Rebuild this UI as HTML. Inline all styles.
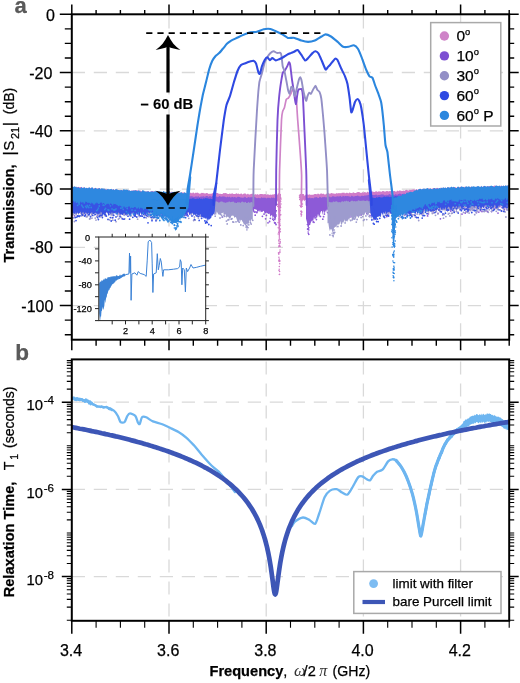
<!DOCTYPE html>
<html><head><meta charset="utf-8"><title>Figure</title>
<style>
html,body{margin:0;padding:0;background:#fff;}
body{width:520px;height:683px;overflow:hidden;font-family:"Liberation Sans", Arial, Helvetica, sans-serif;}
svg{display:block;}
text{font-family:"Liberation Sans", Arial, Helvetica, sans-serif;fill:#000;stroke:#000;stroke-width:0.25px;}
</style></head><body>
<svg width="520" height="683" viewBox="0 0 520 683">
<defs><filter id="soft" x="0" y="0" width="520" height="683" filterUnits="userSpaceOnUse"><feGaussianBlur stdDeviation="0.55"/></filter></defs>
<rect width="520" height="683" fill="#ffffff"/>
<g filter="url(#soft)">
<g id="panel-a">
<g stroke="#d9d9d9" stroke-width="1.3" stroke-dasharray="13.2 8.8" fill="none">
<path d="M71.8 72.5H509.2"/>
<path d="M71.8 130.8H509.2"/>
<path d="M71.8 189.1H509.2"/>
<path d="M71.8 247.3H509.2"/>
<path d="M71.8 305.6H509.2"/>
<path d="M169.0 15.3V339.7"/>
<path d="M266.2 15.3V339.7"/>
<path d="M363.4 15.3V339.7"/>
<path d="M460.6 15.3V339.7"/>
</g>
<clipPath id="clipA"><rect x="71.8" y="14.3" width="437.4" height="325.4"/></clipPath>
<g clip-path="url(#clipA)" stroke-linejoin="round" stroke-linecap="round">
<polygon fill="#d07ac8" points="72.0,186.7 72.8,186.5 73.6,187.2 74.4,186.5 75.2,187.2 76.0,187.0 76.8,186.7 77.6,187.3 78.4,186.8 79.2,187.3 80.0,186.9 80.8,187.0 81.6,187.5 82.4,188.0 83.2,187.2 84.0,187.4 84.8,187.9 85.6,188.4 86.4,188.0 87.2,187.8 88.0,188.6 88.8,187.5 89.6,188.5 90.4,187.9 91.2,187.7 92.0,187.8 92.8,188.1 93.6,188.7 94.4,188.0 95.2,188.6 96.0,188.7 96.8,188.4 97.6,188.7 98.4,188.1 99.2,188.2 100.0,188.4 100.8,189.1 101.6,188.8 102.4,188.7 103.2,189.1 104.0,189.0 104.8,188.8 105.6,189.5 106.4,189.4 107.2,188.9 108.0,189.4 108.8,189.4 109.6,189.9 110.4,189.7 111.2,189.2 112.0,190.1 112.8,189.1 113.6,189.5 114.4,190.0 115.2,189.3 116.0,189.7 116.8,189.2 117.6,190.0 118.4,190.2 119.2,190.0 120.0,190.4 120.8,189.7 121.6,190.3 122.4,190.2 123.2,190.2 124.0,190.1 124.8,190.6 125.6,190.8 126.4,190.2 127.2,190.5 128.0,189.8 128.8,190.6 129.6,190.6 130.4,191.1 131.2,190.9 132.0,190.3 132.8,190.4 133.6,190.8 134.4,190.0 135.2,190.6 136.0,190.3 136.8,190.3 137.6,190.3 138.4,191.2 139.2,190.4 140.0,190.6 140.8,190.8 141.6,191.5 142.4,190.5 143.2,191.0 144.0,191.2 144.8,191.7 145.6,191.6 146.4,191.7 147.2,191.0 148.0,191.2 148.8,191.2 149.6,191.9 150.4,192.0 151.2,191.0 152.0,191.1 152.8,191.2 153.6,191.2 154.4,191.6 155.2,191.8 156.0,191.4 156.8,191.1 157.6,191.6 158.4,191.6 159.2,191.9 160.0,192.4 160.8,192.1 161.6,191.9 162.4,192.1 163.2,192.2 164.0,191.4 164.8,192.5 165.6,192.4 166.4,192.6 167.2,192.5 168.0,192.0 168.8,192.1 169.6,191.7 170.4,192.4 171.2,191.7 172.0,191.8 172.8,192.0 173.6,192.0 174.4,192.2 175.2,191.9 176.0,191.9 176.8,192.1 177.6,192.0 178.4,192.4 179.2,192.0 180.0,193.1 180.8,192.8 181.6,192.3 182.4,192.4 183.2,192.6 184.0,192.6 184.8,192.4 185.6,193.3 186.4,193.5 187.2,192.9 188.0,192.9 188.8,192.4 189.6,192.5 190.4,192.8 191.2,192.7 192.0,193.4 192.8,192.6 193.6,192.4 194.4,193.6 195.2,193.1 196.0,192.6 196.8,193.1 197.6,192.5 198.4,193.1 199.2,193.7 200.0,193.6 200.8,193.4 201.6,192.8 202.4,193.0 203.2,192.8 204.0,193.5 204.8,193.2 205.6,193.6 206.4,193.0 207.2,192.9 208.0,193.6 208.8,193.9 209.6,193.7 210.4,193.7 211.2,193.7 212.0,193.6 212.8,193.0 213.6,193.4 214.4,193.2 215.2,192.8 216.0,192.8 216.8,193.1 217.6,193.1 218.4,193.6 219.2,194.0 220.0,193.4 220.8,194.0 221.6,194.1 222.4,194.0 223.2,193.3 224.0,193.1 224.8,193.2 225.6,193.1 226.4,193.2 227.2,193.7 228.0,194.1 228.8,194.0 229.6,193.5 230.4,193.8 231.2,194.0 232.0,193.1 232.8,193.8 233.6,194.1 234.4,194.0 235.2,194.0 236.0,193.6 236.8,193.3 237.6,194.1 238.4,193.5 239.2,194.1 240.0,194.3 240.8,193.6 241.6,193.6 242.4,194.4 243.2,194.1 244.0,193.4 244.8,193.4 245.6,193.4 246.4,194.4 247.2,194.3 248.0,193.5 248.8,194.4 249.6,194.6 250.4,194.2 251.2,193.8 252.0,194.1 252.8,193.6 253.6,193.5 254.4,194.7 255.2,194.3 256.0,194.2 256.8,194.7 257.6,194.1 258.4,194.7 259.2,194.6 260.0,193.9 260.8,194.0 261.6,194.0 262.4,194.0 263.2,194.4 264.0,194.0 264.8,194.3 265.6,193.9 266.4,194.9 267.2,194.2 268.0,194.4 268.8,194.6 269.6,195.0 270.4,194.4 271.2,195.1 272.0,194.6 272.8,194.6 273.6,194.6 274.4,194.0 275.2,194.6 276.0,194.3 276.8,194.0 277.6,195.1 278.4,194.3 279.2,194.7 279.2,200.5 278.4,199.4 277.6,201.6 276.8,201.7 276.0,199.8 275.2,201.4 274.4,199.6 273.6,200.4 272.8,200.4 272.0,200.5 271.2,199.9 270.4,200.8 269.6,200.8 268.8,200.8 268.0,199.8 267.2,199.2 266.4,199.1 265.6,200.4 264.8,199.8 264.0,200.8 263.2,199.6 262.4,199.3 261.6,199.1 260.8,200.5 260.0,200.4 259.2,200.7 258.4,200.5 257.6,200.0 256.8,199.7 256.0,200.0 255.2,201.1 254.4,200.5 253.6,199.2 252.8,200.5 252.0,199.3 251.2,198.9 250.4,199.3 249.6,200.4 248.8,198.8 248.0,200.2 247.2,199.9 246.4,199.8 245.6,200.3 244.8,200.4 244.0,198.5 243.2,199.7 242.4,200.1 241.6,199.9 240.8,199.9 240.0,199.7 239.2,200.4 238.4,198.6 237.6,199.2 236.8,198.7 236.0,198.4 235.2,198.9 234.4,200.0 233.6,199.9 232.8,200.4 232.0,199.7 231.2,200.3 230.4,200.2 229.6,200.2 228.8,199.4 228.0,199.5 227.2,198.5 226.4,200.1 225.6,199.9 224.8,199.7 224.0,200.3 223.2,200.2 222.4,198.2 221.6,199.7 220.8,199.8 220.0,198.5 219.2,200.4 218.4,198.9 217.6,199.0 216.8,200.2 216.0,199.8 215.2,199.6 214.4,199.8 213.6,199.3 212.8,199.4 212.0,198.5 211.2,198.7 210.4,198.0 209.6,198.0 208.8,198.9 208.0,198.1 207.2,198.5 206.4,197.9 205.6,199.1 204.8,198.4 204.0,199.1 203.2,199.0 202.4,198.7 201.6,197.8 200.8,198.7 200.0,198.5 199.2,200.1 198.4,198.4 197.6,199.1 196.8,200.1 196.0,200.0 195.2,198.4 194.4,198.8 193.6,198.1 192.8,198.8 192.0,198.4 191.2,198.2 190.4,198.3 189.6,199.2 188.8,199.7 188.0,199.6 187.2,197.8 186.4,198.0 185.6,198.2 184.8,199.3 184.0,197.6 183.2,197.8 182.4,197.5 181.6,198.2 180.8,198.3 180.0,198.8 179.2,199.0 178.4,199.2 177.6,198.0 176.8,199.5 176.0,198.8 175.2,198.3 174.4,198.0 173.6,199.1 172.8,198.2 172.0,198.0 171.2,198.9 170.4,197.2 169.6,199.1 168.8,198.0 168.0,197.3 167.2,198.1 166.4,198.5 165.6,196.8 164.8,197.3 164.0,196.7 163.2,197.5 162.4,197.0 161.6,197.8 160.8,197.2 160.0,198.3 159.2,197.2 158.4,197.2 157.6,196.9 156.8,196.5 156.0,196.7 155.2,196.6 154.4,196.9 153.6,197.5 152.8,196.5 152.0,196.8 151.2,198.4 150.4,197.4 149.6,196.9 148.8,197.1 148.0,198.1 147.2,196.1 146.4,198.0 145.6,196.1 144.8,197.8 144.0,197.3 143.2,198.0 142.4,195.9 141.6,196.7 140.8,197.3 140.0,195.7 139.2,195.8 138.4,197.2 137.6,196.8 136.8,197.6 136.0,195.8 135.2,196.0 134.4,197.3 133.6,197.5 132.8,196.3 132.0,195.5 131.2,195.8 130.4,197.0 129.6,195.2 128.8,195.7 128.0,195.3 127.2,197.3 126.4,196.8 125.6,197.2 124.8,195.0 124.0,196.0 123.2,196.3 122.4,195.5 121.6,194.7 120.8,195.7 120.0,195.9 119.2,194.6 118.4,196.3 117.6,195.2 116.8,194.9 116.0,195.2 115.2,195.6 114.4,195.4 113.6,194.7 112.8,196.2 112.0,196.6 111.2,195.3 110.4,195.1 109.6,196.4 108.8,194.5 108.0,196.3 107.2,196.0 106.4,194.2 105.6,195.4 104.8,195.5 104.0,194.1 103.2,195.8 102.4,195.5 101.6,195.2 100.8,193.7 100.0,194.0 99.2,193.6 98.4,194.4 97.6,193.6 96.8,193.6 96.0,195.2 95.2,195.4 94.4,194.4 93.6,193.6 92.8,195.2 92.0,195.0 91.2,194.5 90.4,195.1 89.6,193.9 88.8,194.0 88.0,193.7 87.2,194.3 86.4,193.8 85.6,193.7 84.8,193.9 84.0,193.5 83.2,194.5 82.4,194.1 81.6,193.6 80.8,193.4 80.0,194.0 79.2,192.7 78.4,192.6 77.6,193.3 76.8,192.2 76.0,193.7 75.2,193.1 74.4,193.0 73.6,192.5 72.8,193.0 72.0,193.3"/>
<path d="M88.0 198.2h.01M92.8 195.4h.01M170.4 204.6h.01M196.0 204.4h.01M248.8 201.4h.01M276.8 204.4h.01" stroke="#d07ac8" stroke-width="1.8" stroke-linecap="round" fill="none"/>
<polygon fill="#d07ac8" points="301.0,195.5 301.8,194.3 302.6,194.6 303.4,194.8 304.2,195.4 305.0,195.4 305.8,194.6 306.6,194.4 307.4,194.6 308.2,194.6 309.0,195.1 309.8,194.1 310.6,194.9 311.4,194.8 312.2,194.8 313.0,194.7 313.8,194.5 314.6,194.1 315.4,194.0 316.2,194.0 317.0,194.5 317.8,193.6 318.6,193.7 319.4,194.4 320.2,193.7 321.0,193.4 321.8,193.4 322.6,194.0 323.4,193.6 324.2,194.4 325.0,194.3 325.8,194.4 326.6,193.4 327.4,193.1 328.2,193.1 329.0,193.6 329.8,193.8 330.6,193.4 331.4,193.1 332.2,193.3 333.0,193.6 333.8,193.6 334.6,193.7 335.4,193.8 336.2,193.5 337.0,192.8 337.8,193.7 338.6,192.9 339.4,193.3 340.2,193.0 341.0,193.4 341.8,192.7 342.6,192.7 343.4,192.7 344.2,192.6 345.0,193.4 345.8,193.0 346.6,192.7 347.4,192.7 348.2,193.5 349.0,192.8 349.8,192.4 350.6,193.1 351.4,192.9 352.2,193.3 353.0,192.2 353.8,192.6 354.6,193.0 355.4,193.0 356.2,193.1 357.0,191.9 357.8,192.2 358.6,192.0 359.4,192.0 360.2,193.0 361.0,192.5 361.8,192.9 362.6,192.1 363.4,192.7 364.2,192.2 365.0,191.9 365.8,192.5 366.6,192.7 367.4,191.6 368.2,192.2 369.0,192.2 369.8,191.7 370.6,191.8 371.4,191.5 372.2,191.5 373.0,191.6 373.8,192.0 374.6,192.0 375.4,191.4 376.2,191.2 377.0,191.5 377.8,191.9 378.6,191.3 379.4,191.4 380.2,191.3 381.0,192.0 381.8,191.6 382.6,191.0 383.4,191.0 384.2,191.4 385.0,191.5 385.8,191.6 386.6,190.9 387.4,191.0 388.2,191.6 389.0,191.2 389.8,191.0 390.6,191.0 391.4,191.8 392.2,191.0 393.0,191.3 393.8,191.0 394.6,191.0 395.4,191.6 396.2,191.7 397.0,190.9 397.8,190.6 398.6,191.3 399.4,190.6 400.2,190.3 401.0,191.3 401.8,190.7 402.6,191.1 403.4,190.5 404.2,191.0 405.0,190.4 405.8,190.0 406.6,189.7 407.4,190.3 408.2,190.4 409.0,190.6 409.8,189.5 410.6,190.1 411.4,189.7 412.2,189.8 413.0,189.3 413.8,189.4 414.6,189.6 415.4,190.1 416.2,189.0 417.0,189.4 417.8,189.7 418.6,189.8 419.4,188.8 420.2,188.6 421.0,189.6 421.8,189.6 422.6,189.0 423.4,188.4 424.2,189.5 425.0,188.7 425.8,189.3 426.6,189.0 427.4,189.2 428.2,188.3 429.0,189.0 429.8,188.3 430.6,188.5 431.4,189.0 432.2,188.9 433.0,188.1 433.8,188.1 434.6,188.3 435.4,188.4 436.2,188.2 437.0,187.8 437.8,187.9 438.6,188.5 439.4,188.7 440.2,187.5 441.0,188.2 441.8,188.4 442.6,187.4 443.4,188.4 444.2,187.4 445.0,188.0 445.8,187.9 446.6,188.0 447.4,187.5 448.2,187.6 449.0,187.8 449.8,187.5 450.6,187.8 451.4,187.5 452.2,187.5 453.0,186.9 453.8,187.7 454.6,187.5 455.4,187.1 456.2,187.8 457.0,187.7 457.8,187.3 458.6,186.9 459.4,187.3 460.2,186.8 461.0,186.8 461.8,187.1 462.6,186.7 463.4,187.1 464.2,187.2 465.0,186.5 465.8,187.3 466.6,186.5 467.4,187.3 468.2,187.4 469.0,187.0 469.8,186.4 470.6,186.9 471.4,186.8 472.2,187.4 473.0,186.4 473.8,187.3 474.6,187.4 475.4,187.1 476.2,187.1 477.0,186.3 477.8,187.3 478.6,186.7 479.4,187.2 480.2,187.1 481.0,186.2 481.8,186.9 482.6,187.1 483.4,186.0 484.2,186.3 485.0,186.8 485.8,186.0 486.6,186.9 487.4,186.1 488.2,186.7 489.0,185.9 489.8,186.3 490.6,186.8 491.4,185.9 492.2,185.9 493.0,186.2 493.8,185.9 494.6,185.5 495.4,185.7 496.2,185.6 497.0,186.6 497.8,186.2 498.6,186.5 499.4,185.5 500.2,186.3 501.0,185.4 501.8,185.9 502.6,186.0 503.4,185.6 504.2,186.3 505.0,185.8 505.8,185.8 506.6,186.2 507.4,185.2 508.2,186.3 508.2,190.5 507.4,190.3 506.6,190.2 505.8,190.2 505.0,191.9 504.2,191.6 503.4,190.6 502.6,190.4 501.8,190.5 501.0,192.1 500.2,191.1 499.4,190.3 498.6,191.4 497.8,191.9 497.0,191.2 496.2,190.5 495.4,191.9 494.6,191.8 493.8,192.2 493.0,190.6 492.2,191.1 491.4,191.1 490.6,191.9 489.8,192.2 489.0,192.2 488.2,191.7 487.4,191.5 486.6,191.0 485.8,192.6 485.0,191.4 484.2,191.7 483.4,192.7 482.6,191.2 481.8,191.1 481.0,190.7 480.2,192.8 479.4,190.9 478.6,192.9 477.8,191.7 477.0,191.7 476.2,191.7 475.4,192.3 474.6,192.8 473.8,192.6 473.0,192.8 472.2,191.1 471.4,192.5 470.6,191.3 469.8,192.2 469.0,192.7 468.2,191.6 467.4,191.8 466.6,193.4 465.8,191.8 465.0,193.2 464.2,192.1 463.4,192.4 462.6,191.7 461.8,193.2 461.0,192.5 460.2,192.5 459.4,191.4 458.6,193.8 457.8,193.3 457.0,191.9 456.2,191.5 455.4,191.9 454.6,193.5 453.8,191.8 453.0,193.7 452.2,192.1 451.4,192.9 450.6,193.4 449.8,192.5 449.0,193.6 448.2,192.8 447.4,192.8 446.6,191.9 445.8,193.4 445.0,194.0 444.2,193.2 443.4,194.3 442.6,192.8 441.8,193.0 441.0,193.9 440.2,192.9 439.4,192.8 438.6,192.3 437.8,193.3 437.0,193.1 436.2,192.9 435.4,194.2 434.6,192.7 433.8,192.7 433.0,193.2 432.2,194.1 431.4,194.6 430.6,194.2 429.8,194.7 429.0,194.8 428.2,192.9 427.4,193.1 426.6,193.4 425.8,193.2 425.0,195.2 424.2,195.2 423.4,195.1 422.6,193.2 421.8,195.2 421.0,195.1 420.2,195.2 419.4,194.1 418.6,194.7 417.8,193.6 417.0,195.2 416.2,195.2 415.4,195.1 414.6,195.3 413.8,193.9 413.0,193.9 412.2,194.2 411.4,194.8 410.6,196.3 409.8,194.4 409.0,194.3 408.2,194.6 407.4,196.5 406.6,194.6 405.8,196.0 405.0,195.1 404.2,195.4 403.4,196.1 402.6,196.5 401.8,195.9 401.0,197.0 400.2,196.7 399.4,197.0 398.6,196.2 397.8,197.4 397.0,196.7 396.2,196.8 395.4,196.7 394.6,197.4 393.8,195.8 393.0,196.0 392.2,197.4 391.4,196.1 390.6,197.1 389.8,197.6 389.0,197.2 388.2,196.0 387.4,196.1 386.6,195.5 385.8,197.6 385.0,196.1 384.2,197.9 383.4,197.1 382.6,196.3 381.8,196.9 381.0,197.6 380.2,196.8 379.4,197.1 378.6,196.4 377.8,197.5 377.0,197.9 376.2,197.5 375.4,197.7 374.6,196.7 373.8,196.0 373.0,196.5 372.2,196.2 371.4,196.6 370.6,197.1 369.8,197.9 369.0,197.2 368.2,197.9 367.4,198.2 366.6,196.2 365.8,198.0 365.0,198.1 364.2,198.4 363.4,196.4 362.6,197.1 361.8,197.1 361.0,196.8 360.2,198.4 359.4,198.0 358.6,197.7 357.8,198.0 357.0,197.1 356.2,196.9 355.4,198.9 354.6,198.0 353.8,196.7 353.0,198.6 352.2,196.9 351.4,197.4 350.6,197.8 349.8,198.1 349.0,197.0 348.2,199.1 347.4,197.5 346.6,198.7 345.8,199.2 345.0,198.1 344.2,198.6 343.4,197.9 342.6,198.5 341.8,198.7 341.0,197.2 340.2,197.8 339.4,198.2 338.6,199.1 337.8,199.4 337.0,198.9 336.2,197.6 335.4,197.8 334.6,198.0 333.8,199.7 333.0,197.8 332.2,198.7 331.4,199.0 330.6,198.1 329.8,199.0 329.0,199.1 328.2,198.2 327.4,198.6 326.6,198.0 325.8,198.7 325.0,197.9 324.2,197.9 323.4,199.5 322.6,198.5 321.8,198.3 321.0,200.2 320.2,199.3 319.4,199.2 318.6,199.6 317.8,198.6 317.0,198.3 316.2,198.3 315.4,199.1 314.6,200.0 313.8,199.8 313.0,200.8 312.2,200.0 311.4,199.1 310.6,200.5 309.8,198.7 309.0,200.4 308.2,199.1 307.4,199.8 306.6,200.6 305.8,199.7 305.0,200.2 304.2,201.3 303.4,199.6 302.6,200.9 301.8,199.9 301.0,200.5"/>
<path d="M373.0 201.0h.01M401.8 198.7h.01M417.0 203.1h.01M446.6 194.7h.01M491.4 195.1h.01" stroke="#d07ac8" stroke-width="1.8" stroke-linecap="round" fill="none"/>
<polygon fill="#d07ac8" points="277.7,194.0 280.9,194.0 279.8,239.1 278.8,239.1"/>
<path d="M279.7 261.5h.01M278.8 240.1h.01M279.1 218.8h.01M279.1 220.1h.01M280.1 246.6h.01M279.6 198.5h.01M277.8 197.2h.01M279.4 260.4h.01M279.2 269.3h.01M278.9 195.2h.01M280.2 242.5h.01M279.3 274.4h.01M278.2 227.8h.01M278.7 246.8h.01M277.6 206.4h.01M280.0 194.4h.01M281.0 204.0h.01M280.7 201.2h.01M277.6 204.6h.01M278.9 253.0h.01M278.8 254.2h.01M280.4 198.1h.01M279.9 252.5h.01M278.6 253.8h.01M279.7 245.5h.01M280.4 231.8h.01M280.8 214.8h.01M278.5 252.8h.01M279.9 195.2h.01M278.7 261.0h.01M280.0 219.5h.01M280.6 207.6h.01M278.2 233.9h.01M279.5 224.1h.01M279.8 230.0h.01M280.4 205.9h.01M279.7 223.8h.01M279.1 245.6h.01M280.1 225.6h.01M279.6 271.5h.01M278.8 240.5h.01M281.1 199.0h.01M279.9 251.7h.01M279.6 221.2h.01M279.6 274.2h.01M278.9 243.3h.01M280.3 229.1h.01M279.8 224.9h.01M280.1 243.3h.01M279.0 260.2h.01M278.4 194.1h.01M279.5 228.6h.01M279.8 260.9h.01M280.6 197.5h.01M279.8 260.6h.01M278.8 240.9h.01M279.7 263.8h.01M280.0 250.1h.01M278.1 222.4h.01M280.0 239.4h.01M280.1 210.4h.01M279.0 270.4h.01M279.7 243.8h.01M278.6 232.2h.01M280.1 214.9h.01M279.2 258.9h.01M280.4 201.2h.01M278.9 257.3h.01M280.2 241.5h.01M279.3 266.6h.01" stroke="#d07ac8" stroke-width="1.5" stroke-linecap="round" fill="none"/>
<polygon fill="#d07ac8" points="299.5,194.0 303.1,194.0 301.8,206.1 300.8,206.1"/>
<path d="M301.5 204.5h.01M300.2 198.2h.01M302.1 198.0h.01M301.5 202.0h.01M301.4 202.9h.01M299.5 197.3h.01M301.2 215.9h.01M301.8 196.3h.01M300.8 211.3h.01M301.0 207.1h.01M300.1 205.4h.01M303.4 194.7h.01M301.3 213.1h.01M300.7 206.5h.01M301.2 211.1h.01M301.6 214.8h.01M302.0 212.0h.01M299.7 199.6h.01M300.1 198.4h.01M299.5 195.8h.01M302.2 206.3h.01M302.5 204.1h.01M300.8 214.0h.01M301.1 207.2h.01M303.1 196.6h.01" stroke="#d07ac8" stroke-width="1.5" stroke-linecap="round" fill="none"/>
<path d="M279.4 198.0 C279.4 195.2 279.4 177.8 279.6 170.0 C279.8 162.2 281.2 125.9 281.5 120.0 C281.8 114.1 282.4 112.4 282.7 111.2 C283.0 110.0 284.0 108.9 284.4 107.7 C284.8 106.5 285.8 100.6 286.2 99.6 C286.6 98.6 288.0 98.5 288.5 97.9 C289.0 97.3 290.4 94.6 290.8 93.8 C291.2 93.0 292.2 90.0 292.5 89.8 C292.8 89.6 293.7 90.9 294.0 91.5 C294.3 92.1 295.1 94.5 295.3 95.5 C295.6 96.5 296.3 98.5 296.5 101.0 C296.7 103.5 297.3 115.1 297.7 120.0 C298.1 124.9 299.6 144.5 300.0 150.0 C300.4 155.5 301.5 170.2 301.6 175.0 C301.7 179.8 301.4 195.7 301.4 198.0" fill="none" stroke="#cf84c8" stroke-width="1.7"/>
<polygon fill="#8d5ad7" points="72.0,190.0 72.8,190.4 73.6,190.6 74.4,191.1 75.2,190.7 76.0,190.4 76.8,190.5 77.6,190.2 78.4,191.4 79.2,191.5 80.0,190.4 80.8,190.2 81.6,190.6 82.4,190.8 83.2,191.6 84.0,191.7 84.8,191.6 85.6,190.6 86.4,191.6 87.2,191.6 88.0,191.6 88.8,192.1 89.6,190.8 90.4,191.0 91.2,191.9 92.0,192.2 92.8,191.9 93.6,191.4 94.4,191.9 95.2,192.2 96.0,191.3 96.8,191.7 97.6,191.6 98.4,191.5 99.2,192.1 100.0,191.7 100.8,191.8 101.6,191.7 102.4,192.5 103.2,191.7 104.0,192.7 104.8,192.0 105.6,191.9 106.4,193.2 107.2,192.2 108.0,193.3 108.8,193.2 109.6,193.3 110.4,192.3 111.2,192.8 112.0,192.3 112.8,193.5 113.6,193.5 114.4,193.2 115.2,193.0 116.0,192.9 116.8,193.6 117.6,193.1 118.4,193.4 119.2,192.8 120.0,192.9 120.8,192.7 121.6,193.7 122.4,193.5 123.2,193.0 124.0,194.0 124.8,193.2 125.6,193.5 126.4,193.1 127.2,193.3 128.0,194.2 128.8,193.5 129.6,193.3 130.4,193.8 131.2,193.6 132.0,194.5 132.8,193.4 133.6,194.7 134.4,193.4 135.2,194.6 136.0,194.3 136.8,193.7 137.6,194.1 138.4,193.9 139.2,193.9 140.0,193.9 140.8,194.1 141.6,195.1 142.4,195.1 143.2,195.1 144.0,193.9 144.8,194.2 145.6,195.1 146.4,194.0 147.2,195.0 148.0,194.4 148.8,195.4 149.6,194.1 150.4,195.2 151.2,194.6 152.0,194.4 152.8,194.2 153.6,195.4 154.4,195.0 155.2,194.6 156.0,195.0 156.8,195.7 157.6,194.7 158.4,195.2 159.2,194.7 160.0,194.8 160.8,195.6 161.6,195.6 162.4,194.9 163.2,194.7 164.0,194.8 164.8,195.6 165.6,195.4 166.4,195.1 167.2,195.1 168.0,195.7 168.8,195.9 169.6,196.0 170.4,195.7 171.2,195.2 172.0,195.1 172.8,196.1 173.6,195.6 174.4,196.1 175.2,195.2 176.0,196.3 176.8,195.7 177.6,196.4 178.4,196.5 179.2,196.0 180.0,195.3 180.8,196.6 181.6,196.0 182.4,196.6 183.2,195.8 184.0,195.7 184.8,196.7 185.6,196.1 186.4,195.8 187.2,196.1 188.0,196.4 188.8,195.6 189.6,196.4 190.4,196.3 191.2,196.4 192.0,195.8 192.8,196.7 193.6,196.8 194.4,196.9 195.2,196.2 196.0,196.7 196.8,196.3 197.6,196.8 198.4,195.9 199.2,197.0 200.0,197.1 200.8,196.5 201.6,196.5 202.4,196.6 203.2,196.6 204.0,195.9 204.8,197.2 205.6,196.2 206.4,196.1 207.2,196.0 208.0,196.3 208.8,197.1 209.6,196.0 210.4,196.1 211.2,196.9 212.0,196.3 212.8,196.0 213.6,196.8 214.4,196.8 215.2,196.8 216.0,197.0 216.8,196.2 217.6,197.3 218.4,197.1 219.2,196.1 220.0,196.3 220.8,196.8 221.6,196.8 222.4,196.5 223.2,196.3 224.0,196.7 224.8,196.4 225.6,197.0 226.4,197.4 227.2,196.4 228.0,197.0 228.8,197.3 229.6,196.5 230.4,197.4 231.2,197.6 232.0,196.8 232.8,196.9 233.6,197.5 234.4,197.1 235.2,196.9 236.0,197.7 236.8,197.4 237.6,196.8 238.4,196.7 239.2,196.9 240.0,197.0 240.8,197.8 241.6,197.6 242.4,197.7 243.2,197.6 244.0,197.7 244.8,196.6 245.6,197.3 246.4,197.9 247.2,197.9 248.0,197.0 248.8,197.2 249.6,197.5 250.4,197.2 251.2,197.4 252.0,196.8 252.8,197.3 253.6,197.5 254.4,196.8 255.2,197.0 256.0,198.2 256.8,197.9 257.6,198.2 258.4,197.8 259.2,198.0 260.0,198.2 260.8,198.2 261.6,197.0 262.4,197.9 263.2,197.4 264.0,198.0 264.8,197.4 265.6,197.8 266.4,198.4 267.2,198.0 268.0,197.5 268.8,197.9 269.6,197.8 270.4,198.5 271.2,197.6 272.0,197.6 272.8,198.1 273.6,197.4 274.4,198.1 275.2,198.6 276.0,198.0 276.0,217.9 275.2,220.7 274.4,217.4 273.6,216.0 272.8,218.4 272.0,215.1 271.2,215.6 270.4,216.8 269.6,213.4 268.8,213.9 268.0,213.8 267.2,212.9 266.4,212.8 265.6,212.9 264.8,214.8 264.0,211.2 263.2,210.7 262.4,212.1 261.6,211.8 260.8,212.3 260.0,210.1 259.2,212.0 258.4,210.5 257.6,213.5 256.8,209.5 256.0,210.1 255.2,209.0 254.4,209.0 253.6,211.4 252.8,209.7 252.0,211.6 251.2,208.9 250.4,208.4 249.6,210.8 248.8,209.2 248.0,208.5 247.2,211.9 246.4,209.7 245.6,212.0 244.8,210.2 244.0,208.8 243.2,211.3 242.4,211.7 241.6,208.8 240.8,211.4 240.0,211.8 239.2,207.5 238.4,208.5 237.6,210.3 236.8,209.4 236.0,211.9 235.2,210.1 234.4,211.6 233.6,207.6 232.8,209.1 232.0,209.4 231.2,209.0 230.4,210.1 229.6,211.6 228.8,207.7 228.0,208.5 227.2,208.1 226.4,209.0 225.6,210.7 224.8,208.8 224.0,210.9 223.2,207.3 222.4,207.5 221.6,211.1 220.8,210.2 220.0,211.2 219.2,209.7 218.4,208.0 217.6,207.7 216.8,207.7 216.0,210.8 215.2,207.9 214.4,207.8 213.6,209.2 212.8,209.9 212.0,212.0 211.2,209.7 210.4,210.3 209.6,208.4 208.8,209.8 208.0,209.5 207.2,208.1 206.4,210.3 205.6,210.0 204.8,211.2 204.0,208.6 203.2,207.1 202.4,210.4 201.6,208.6 200.8,210.9 200.0,209.1 199.2,207.3 198.4,210.2 197.6,211.9 196.8,208.8 196.0,210.0 195.2,210.1 194.4,208.0 193.6,208.0 192.8,209.5 192.0,209.5 191.2,208.5 190.4,207.8 189.6,209.1 188.8,211.3 188.0,211.8 187.2,211.0 186.4,210.3 185.6,211.3 184.8,207.6 184.0,209.5 183.2,211.0 182.4,211.7 181.6,208.5 180.8,207.8 180.0,210.9 179.2,209.5 178.4,208.6 177.6,211.8 176.8,210.0 176.0,209.1 175.2,209.3 174.4,211.6 173.6,211.2 172.8,209.7 172.0,209.6 171.2,208.9 170.4,208.7 169.6,207.4 168.8,209.5 168.0,210.2 167.2,211.5 166.4,208.6 165.6,209.8 164.8,208.6 164.0,208.8 163.2,210.2 162.4,209.4 161.6,209.4 160.8,211.7 160.0,209.5 159.2,210.6 158.4,211.3 157.6,209.3 156.8,209.6 156.0,207.1 155.2,206.9 154.4,211.2 153.6,208.9 152.8,207.8 152.0,211.4 151.2,210.9 150.4,210.9 149.6,208.4 148.8,211.2 148.0,207.2 147.2,209.6 146.4,209.6 145.6,207.5 144.8,208.3 144.0,207.7 143.2,208.9 142.4,209.2 141.6,210.9 140.8,210.6 140.0,208.3 139.2,208.6 138.4,209.4 137.6,208.6 136.8,208.2 136.0,210.2 135.2,208.9 134.4,208.9 133.6,208.6 132.8,209.7 132.0,210.9 131.2,210.5 130.4,208.7 129.6,209.5 128.8,211.3 128.0,209.1 127.2,209.5 126.4,210.4 125.6,206.7 124.8,210.9 124.0,207.3 123.2,211.1 122.4,210.1 121.6,210.4 120.8,209.0 120.0,210.3 119.2,210.2 118.4,210.2 117.6,209.1 116.8,210.6 116.0,210.7 115.2,209.6 114.4,209.9 113.6,208.3 112.8,208.2 112.0,207.4 111.2,210.2 110.4,211.2 109.6,207.7 108.8,207.1 108.0,210.1 107.2,208.7 106.4,208.5 105.6,206.9 104.8,208.7 104.0,210.8 103.2,206.9 102.4,207.3 101.6,210.3 100.8,208.0 100.0,211.3 99.2,207.9 98.4,208.9 97.6,209.2 96.8,207.7 96.0,210.7 95.2,208.2 94.4,206.6 93.6,209.3 92.8,208.4 92.0,209.0 91.2,207.6 90.4,207.7 89.6,208.0 88.8,208.7 88.0,209.4 87.2,209.1 86.4,208.7 85.6,209.9 84.8,207.4 84.0,209.6 83.2,209.2 82.4,209.4 81.6,210.5 80.8,209.1 80.0,206.9 79.2,207.6 78.4,207.8 77.6,208.4 76.8,207.8 76.0,207.1 75.2,207.0 74.4,207.1 73.6,209.0 72.8,208.6 72.0,207.7"/>
<path d="M74.4 215.8h.01M75.2 210.0h.01M76.8 212.4h.01M79.2 211.1h.01M80.8 210.0h.01M83.2 209.7h.01M84.0 213.7h.01M85.6 213.3h.01M86.4 209.9h.01M88.0 211.7h.01M88.8 212.8h.01M89.6 211.2h.01M91.2 210.6h.01M92.8 212.2h.01M94.4 210.7h.01M95.2 210.4h.01M96.0 211.6h.01M97.6 215.0h.01M100.8 213.4h.01M101.6 214.1h.01M103.2 210.5h.01M106.4 211.3h.01M108.0 212.0h.01M108.8 213.9h.01M110.4 212.3h.01M111.2 210.8h.01M112.0 211.4h.01M112.8 212.2h.01M114.4 210.4h.01M117.6 213.9h.01M118.4 211.6h.01M119.2 212.4h.01M120.0 214.2h.01M120.8 212.3h.01M121.6 213.0h.01M122.4 213.8h.01M123.2 213.2h.01M125.6 210.8h.01M128.0 212.6h.01M128.8 212.8h.01M134.4 210.9h.01M138.4 209.9h.01M140.8 210.8h.01M144.8 212.5h.01M146.4 210.9h.01M147.2 213.0h.01M148.8 213.5h.01M149.6 213.2h.01M151.2 210.3h.01M152.0 211.2h.01M153.6 211.1h.01M156.8 212.0h.01M160.0 213.5h.01M160.8 211.3h.01M161.6 211.6h.01M162.4 211.5h.01M164.0 214.4h.01M164.8 212.8h.01M165.6 210.6h.01M166.4 219.3h.01M168.0 210.7h.01M171.2 213.2h.01M172.0 210.3h.01M173.6 213.8h.01M176.8 212.2h.01M177.6 210.5h.01M180.0 210.6h.01M180.8 213.9h.01M182.4 214.5h.01M185.6 212.4h.01M186.4 215.3h.01M187.2 212.9h.01M188.8 211.1h.01M189.6 214.0h.01M195.2 211.9h.01M196.0 211.3h.01M197.6 210.8h.01M200.0 213.3h.01M200.8 211.0h.01M202.4 213.4h.01M204.8 215.2h.01M208.0 214.4h.01M210.4 211.9h.01M211.2 213.9h.01M212.0 211.6h.01M212.8 212.6h.01M220.0 211.7h.01M222.4 217.0h.01M224.8 213.5h.01M225.6 210.9h.01M226.4 210.8h.01M228.8 211.9h.01M232.8 212.8h.01M233.6 213.1h.01M235.2 216.1h.01M236.8 213.5h.01M237.6 212.5h.01M240.0 211.7h.01M242.4 211.1h.01M244.0 216.0h.01M247.2 212.7h.01M249.6 211.9h.01M250.4 213.1h.01M253.6 210.9h.01M254.4 212.0h.01M255.2 215.2h.01M256.0 211.9h.01M256.8 212.6h.01M262.4 216.3h.01M264.0 214.1h.01M265.6 218.8h.01M266.4 215.3h.01M268.0 222.8h.01M269.6 221.5h.01M270.4 218.3h.01M272.8 219.2h.01M275.2 222.8h.01M276.0 224.5h.01" stroke="#8d5ad7" stroke-width="1.8" stroke-linecap="round" fill="none"/>
<polygon fill="#8d5ad7" points="306.0,197.7 306.8,198.1 307.6,197.7 308.4,198.2 309.2,197.8 310.0,197.4 310.8,198.4 311.6,197.9 312.4,198.0 313.2,198.2 314.0,198.3 314.8,197.0 315.6,197.4 316.4,197.1 317.2,197.5 318.0,198.0 318.8,197.9 319.6,196.8 320.4,196.9 321.2,197.8 322.0,197.6 322.8,197.1 323.6,197.2 324.4,196.7 325.2,197.6 326.0,197.0 326.8,197.6 327.6,197.2 328.4,196.4 329.2,196.7 330.0,196.5 330.8,197.4 331.6,197.0 332.4,196.2 333.2,196.3 334.0,196.6 334.8,196.7 335.6,196.8 336.4,196.5 337.2,196.4 338.0,195.9 338.8,196.7 339.6,196.3 340.4,195.8 341.2,196.4 342.0,197.1 342.8,195.8 343.6,195.9 344.4,196.6 345.2,196.0 346.0,196.0 346.8,196.3 347.6,195.9 348.4,196.3 349.2,196.2 350.0,196.8 350.8,196.8 351.6,195.4 352.4,196.1 353.2,196.4 354.0,196.5 354.8,196.3 355.6,196.1 356.4,196.1 357.2,195.7 358.0,195.5 358.8,196.2 359.6,196.3 360.4,196.4 361.2,196.0 362.0,195.4 362.8,196.0 363.6,196.0 364.4,195.6 365.2,195.7 366.0,195.3 366.8,195.6 367.6,195.3 368.4,194.8 369.2,195.2 370.0,195.1 370.8,196.0 371.6,195.3 372.4,195.1 373.2,194.9 374.0,194.9 374.8,195.0 375.6,194.7 376.4,194.5 377.2,195.6 378.0,195.0 378.8,195.0 379.6,195.1 380.4,194.7 381.2,194.5 382.0,194.3 382.8,194.6 383.6,194.6 384.4,195.2 385.2,194.9 386.0,195.4 386.8,194.5 387.6,195.3 388.4,194.8 389.2,194.1 390.0,194.2 390.8,194.7 391.6,195.3 392.4,194.4 393.2,194.9 394.0,194.4 394.8,195.0 395.6,193.9 396.4,194.4 397.2,195.0 398.0,194.1 398.8,194.0 399.6,193.6 400.4,193.8 401.2,193.9 402.0,194.4 402.8,193.7 403.6,193.8 404.4,193.5 405.2,194.0 406.0,194.3 406.8,193.9 407.6,193.2 408.4,193.9 409.2,194.1 410.0,193.5 410.8,192.7 411.6,193.7 412.4,193.7 413.2,192.9 414.0,192.5 414.8,192.5 415.6,192.9 416.4,193.3 417.2,192.9 418.0,193.3 418.8,192.2 419.6,192.3 420.4,192.8 421.2,192.6 422.0,192.3 422.8,192.6 423.6,192.1 424.4,191.7 425.2,192.1 426.0,191.6 426.8,192.3 427.6,191.9 428.4,192.1 429.2,192.2 430.0,191.7 430.8,191.9 431.6,191.2 432.4,192.5 433.2,191.9 434.0,192.5 434.8,191.1 435.6,191.9 436.4,192.0 437.2,191.4 438.0,191.0 438.8,191.1 439.6,191.0 440.4,191.9 441.2,190.9 442.0,191.8 442.8,191.3 443.6,191.4 444.4,191.4 445.2,191.3 446.0,191.4 446.8,191.3 447.6,190.9 448.4,191.4 449.2,190.7 450.0,191.3 450.8,191.3 451.6,191.3 452.4,190.7 453.2,191.3 454.0,191.5 454.8,190.8 455.6,190.5 456.4,190.8 457.2,191.4 458.0,190.2 458.8,190.0 459.6,190.6 460.4,190.9 461.2,191.0 462.0,190.4 462.8,191.3 463.6,190.2 464.4,190.9 465.2,189.9 466.0,189.8 466.8,189.9 467.6,189.8 468.4,190.4 469.2,190.4 470.0,189.9 470.8,190.9 471.6,190.1 472.4,189.7 473.2,189.8 474.0,190.5 474.8,190.7 475.6,189.7 476.4,189.4 477.2,190.5 478.0,189.7 478.8,190.7 479.6,190.0 480.4,190.2 481.2,189.7 482.0,190.3 482.8,189.8 483.6,189.6 484.4,190.4 485.2,189.3 486.0,190.1 486.8,189.1 487.6,189.9 488.4,189.6 489.2,190.2 490.0,189.0 490.8,189.7 491.6,189.5 492.4,190.1 493.2,190.2 494.0,189.7 494.8,189.1 495.6,189.1 496.4,189.1 497.2,189.3 498.0,189.0 498.8,188.9 499.6,189.7 500.4,189.5 501.2,189.0 502.0,189.9 502.8,188.8 503.6,189.3 504.4,188.7 505.2,189.6 506.0,189.6 506.8,188.7 507.6,189.4 508.4,189.5 508.4,206.7 507.6,203.7 506.8,206.2 506.0,207.1 505.2,203.9 504.4,204.0 503.6,207.5 502.8,204.0 502.0,204.7 501.2,204.2 500.4,207.4 499.6,207.4 498.8,206.4 498.0,207.0 497.2,204.0 496.4,205.7 495.6,207.4 494.8,207.0 494.0,207.8 493.2,206.3 492.4,206.3 491.6,206.0 490.8,208.2 490.0,206.2 489.2,206.0 488.4,208.1 487.6,206.3 486.8,206.3 486.0,206.9 485.2,204.2 484.4,207.8 483.6,208.5 482.8,206.6 482.0,206.7 481.2,206.1 480.4,207.9 479.6,204.6 478.8,205.9 478.0,207.5 477.2,206.1 476.4,207.8 475.6,209.1 474.8,205.4 474.0,208.9 473.2,207.3 472.4,206.4 471.6,206.2 470.8,208.4 470.0,207.7 469.2,206.6 468.4,206.0 467.6,208.1 466.8,206.4 466.0,206.8 465.2,204.9 464.4,206.5 463.6,207.7 462.8,208.6 462.0,206.9 461.2,205.8 460.4,209.0 459.6,207.9 458.8,205.4 458.0,208.9 457.2,206.1 456.4,206.5 455.6,206.3 454.8,208.5 454.0,205.9 453.2,205.4 452.4,207.8 451.6,206.1 450.8,205.2 450.0,207.0 449.2,206.8 448.4,207.0 447.6,206.4 446.8,207.8 446.0,207.1 445.2,208.6 444.4,206.1 443.6,209.0 442.8,209.2 442.0,207.7 441.2,207.6 440.4,208.8 439.6,210.3 438.8,207.4 438.0,206.0 437.2,207.7 436.4,208.1 435.6,209.5 434.8,207.4 434.0,206.2 433.2,206.9 432.4,206.5 431.6,206.3 430.8,209.7 430.0,209.8 429.2,207.6 428.4,206.0 427.6,210.0 426.8,210.2 426.0,209.9 425.2,209.0 424.4,208.2 423.6,209.9 422.8,206.8 422.0,207.2 421.2,210.0 420.4,208.6 419.6,208.6 418.8,208.7 418.0,210.6 417.2,206.9 416.4,207.3 415.6,208.5 414.8,208.8 414.0,209.7 413.2,208.6 412.4,210.7 411.6,207.6 410.8,209.3 410.0,207.5 409.2,209.0 408.4,209.5 407.6,208.0 406.8,209.7 406.0,209.5 405.2,209.1 404.4,208.4 403.6,210.0 402.8,208.4 402.0,210.2 401.2,209.7 400.4,207.8 399.6,211.5 398.8,209.6 398.0,209.2 397.2,210.9 396.4,210.4 395.6,206.8 394.8,211.5 394.0,208.4 393.2,209.5 392.4,210.0 391.6,208.5 390.8,210.3 390.0,207.2 389.2,211.4 388.4,210.8 387.6,211.1 386.8,207.7 386.0,208.1 385.2,208.3 384.4,209.0 383.6,210.1 382.8,208.4 382.0,211.7 381.2,210.2 380.4,207.3 379.6,212.1 378.8,208.0 378.0,209.3 377.2,209.2 376.4,209.3 375.6,212.1 374.8,209.5 374.0,209.0 373.2,209.4 372.4,211.0 371.6,211.7 370.8,212.3 370.0,210.9 369.2,210.3 368.4,210.3 367.6,210.8 366.8,211.0 366.0,207.8 365.2,209.5 364.4,210.4 363.6,209.8 362.8,210.3 362.0,208.0 361.2,208.2 360.4,209.2 359.6,208.8 358.8,209.2 358.0,211.5 357.2,212.2 356.4,212.7 355.6,209.1 354.8,209.7 354.0,212.5 353.2,210.5 352.4,209.8 351.6,208.7 350.8,210.6 350.0,211.7 349.2,208.9 348.4,211.5 347.6,209.1 346.8,210.4 346.0,209.0 345.2,210.7 344.4,209.0 343.6,212.6 342.8,209.9 342.0,213.2 341.2,208.6 340.4,209.0 339.6,210.6 338.8,209.7 338.0,211.0 337.2,208.8 336.4,211.9 335.6,212.4 334.8,209.8 334.0,208.8 333.2,213.4 332.4,213.0 331.6,212.2 330.8,213.2 330.0,210.4 329.2,209.3 328.4,212.1 327.6,209.7 326.8,209.4 326.0,212.8 325.2,210.3 324.4,214.2 323.6,210.2 322.8,215.1 322.0,211.2 321.2,211.1 320.4,212.7 319.6,216.5 318.8,216.4 318.0,213.7 317.2,217.5 316.4,217.7 315.6,216.2 314.8,219.4 314.0,217.0 313.2,221.2 312.4,220.6 311.6,220.9 310.8,222.7 310.0,225.1 309.2,224.5 308.4,229.4 307.6,224.9 306.8,221.6 306.0,218.8"/>
<path d="M307.6 229.1h.01M313.2 221.9h.01M314.0 222.3h.01M315.6 217.8h.01M316.4 219.6h.01M320.4 216.4h.01M322.8 219.2h.01M323.6 216.7h.01M324.4 214.1h.01M327.6 212.6h.01M330.0 213.8h.01M330.8 214.9h.01M332.4 212.5h.01M333.2 212.5h.01M339.6 214.0h.01M342.0 212.3h.01M343.6 212.4h.01M349.2 212.7h.01M350.0 216.9h.01M351.6 212.3h.01M355.6 211.9h.01M358.0 215.4h.01M358.8 212.7h.01M360.4 211.4h.01M361.2 214.9h.01M362.8 213.2h.01M364.4 212.3h.01M366.8 213.7h.01M368.4 211.4h.01M370.0 215.4h.01M372.4 211.7h.01M374.0 219.4h.01M376.4 215.1h.01M377.2 210.5h.01M378.8 213.9h.01M382.8 211.8h.01M385.2 212.1h.01M386.8 216.6h.01M387.6 214.7h.01M390.0 211.7h.01M390.8 212.9h.01M392.4 210.6h.01M393.2 212.5h.01M394.8 215.0h.01M397.2 211.6h.01M398.8 210.8h.01M400.4 211.1h.01M401.2 210.7h.01M402.0 211.3h.01M403.6 213.0h.01M405.2 214.7h.01M406.0 210.7h.01M408.4 210.6h.01M410.0 213.0h.01M410.8 210.3h.01M411.6 211.1h.01M412.4 210.6h.01M413.2 211.8h.01M414.8 211.9h.01M419.6 209.2h.01M420.4 210.9h.01M421.2 212.0h.01M422.0 211.4h.01M423.6 211.0h.01M426.8 210.0h.01M427.6 215.9h.01M428.4 213.9h.01M431.6 210.1h.01M433.2 211.9h.01M436.4 208.9h.01M438.0 213.5h.01M438.8 209.9h.01M439.6 210.1h.01M440.4 218.8h.01M446.8 209.9h.01M450.0 208.8h.01M450.8 211.0h.01M454.0 211.5h.01M462.0 214.1h.01M465.2 213.0h.01M466.0 208.8h.01M467.6 208.8h.01M468.4 210.9h.01M472.4 208.7h.01M476.4 212.7h.01M478.8 212.1h.01M480.4 210.6h.01M482.0 211.5h.01M485.2 210.7h.01M486.0 210.7h.01M487.6 211.7h.01M488.4 207.7h.01M491.6 211.6h.01M493.2 207.8h.01M494.0 208.7h.01M495.6 207.9h.01M498.0 213.1h.01M502.0 207.6h.01M503.6 208.2h.01M504.4 209.7h.01M506.0 207.7h.01M506.8 209.6h.01" stroke="#8d5ad7" stroke-width="1.8" stroke-linecap="round" fill="none"/>
<polygon fill="#8d5ad7" points="272.0,210.0 276.8,210.0 274.9,217.7 273.9,217.7"/>
<path d="M276.0 215.3h.01M274.6 222.5h.01M275.0 211.1h.01M276.0 216.2h.01M275.0 215.1h.01M274.1 218.8h.01M274.9 217.3h.01M274.4 222.7h.01M276.2 215.1h.01M276.2 210.8h.01M274.5 219.6h.01M275.3 216.3h.01M274.7 222.5h.01M273.5 220.5h.01M272.9 214.6h.01M274.8 223.3h.01" stroke="#8d5ad7" stroke-width="1.5" stroke-linecap="round" fill="none"/>
<polygon fill="#8d5ad7" points="306.2,210.0 311.0,210.0 309.1,223.8 308.1,223.8"/>
<path d="M309.0 213.6h.01M307.3 224.4h.01M309.5 219.8h.01M308.0 226.0h.01M308.2 229.1h.01M308.4 223.6h.01M308.7 234.5h.01M308.9 230.1h.01M310.3 219.5h.01M309.0 227.7h.01M307.2 216.9h.01M309.5 224.4h.01M308.3 229.8h.01M308.7 213.5h.01M308.1 231.9h.01M307.9 228.5h.01M306.8 217.8h.01M308.1 217.4h.01M309.0 234.2h.01M307.7 214.7h.01M308.3 233.6h.01M308.3 218.0h.01M307.4 212.7h.01M308.2 219.8h.01" stroke="#8d5ad7" stroke-width="1.5" stroke-linecap="round" fill="none"/>
<path d="M276.0 205.0 C276.0 201.5 276.1 178.5 276.2 170.0 C276.3 161.5 277.2 127.4 277.5 120.0 C277.8 112.6 278.8 100.0 279.2 96.2 C279.6 92.4 280.6 84.6 281.0 82.3 C281.4 80.0 282.3 74.3 282.7 73.1 C283.1 71.9 284.5 70.9 285.0 70.2 C285.5 69.5 286.9 67.0 287.3 66.2 C287.7 65.4 288.7 62.2 289.0 62.1 C289.3 62.0 289.9 63.3 290.2 65.0 C290.5 66.7 291.5 76.3 291.9 78.8 C292.2 81.3 293.4 88.4 293.7 90.4 C294.0 92.4 294.6 97.1 294.8 98.5 C295.0 99.9 295.8 104.4 296.0 104.2 C296.2 104.0 296.9 97.6 297.1 96.2 C297.3 94.8 298.0 90.5 298.3 89.8 C298.6 89.1 299.7 89.3 300.0 89.2 C300.3 89.1 301.4 88.5 301.7 89.2 C302.0 89.9 302.7 93.1 302.9 96.2 C303.1 99.3 303.7 112.6 304.0 120.0 C304.3 127.4 305.9 161.5 306.2 170.0 C306.5 178.5 306.6 201.5 306.6 205.0" fill="none" stroke="#7c4fd2" stroke-width="1.9"/>
<polygon fill="#9d9bce" points="72.0,196.2 72.8,195.2 73.6,195.1 74.4,196.3 75.2,195.6 76.0,196.3 76.8,196.0 77.6,196.3 78.4,195.6 79.2,195.4 80.0,196.4 80.8,196.0 81.6,196.2 82.4,196.4 83.2,196.6 84.0,195.9 84.8,196.1 85.6,197.0 86.4,196.5 87.2,196.1 88.0,196.7 88.8,196.2 89.6,197.0 90.4,196.0 91.2,197.2 92.0,196.9 92.8,196.6 93.6,197.6 94.4,196.6 95.2,196.6 96.0,196.4 96.8,197.2 97.6,197.5 98.4,197.5 99.2,197.1 100.0,197.8 100.8,196.8 101.6,197.1 102.4,197.7 103.2,198.2 104.0,197.8 104.8,197.9 105.6,198.1 106.4,197.6 107.2,198.5 108.0,198.2 108.8,197.6 109.6,197.8 110.4,198.5 111.2,197.8 112.0,197.6 112.8,198.7 113.6,198.2 114.4,198.2 115.2,198.5 116.0,198.9 116.8,197.7 117.6,198.1 118.4,197.7 119.2,198.3 120.0,198.5 120.8,199.1 121.6,198.8 122.4,198.7 123.2,198.5 124.0,198.8 124.8,198.4 125.6,199.3 126.4,199.2 127.2,199.4 128.0,198.3 128.8,199.2 129.6,199.3 130.4,199.0 131.2,199.6 132.0,199.7 132.8,199.5 133.6,199.6 134.4,199.4 135.2,199.8 136.0,198.7 136.8,199.6 137.6,199.7 138.4,199.6 139.2,199.1 140.0,198.8 140.8,199.7 141.6,200.0 142.4,199.2 143.2,199.2 144.0,199.2 144.8,199.1 145.6,200.0 146.4,200.5 147.2,200.3 148.0,199.7 148.8,200.2 149.6,199.3 150.4,200.5 151.2,199.7 152.0,199.3 152.8,200.3 153.6,199.6 154.4,199.8 155.2,199.5 156.0,200.1 156.8,200.3 157.6,200.8 158.4,199.6 159.2,200.8 160.0,199.8 160.8,200.0 161.6,200.6 162.4,200.2 163.2,200.2 164.0,200.6 164.8,200.1 165.6,201.1 166.4,200.2 167.2,201.2 168.0,201.2 168.8,200.8 169.6,200.0 170.4,201.2 171.2,200.1 172.0,200.9 172.8,200.8 173.6,200.3 174.4,201.2 175.2,201.3 176.0,201.2 176.8,200.9 177.6,201.1 178.4,201.3 179.2,200.7 180.0,201.8 180.8,202.0 181.6,201.7 182.4,202.0 183.2,201.1 184.0,202.1 184.8,200.7 185.6,201.4 186.4,200.9 187.2,201.4 188.0,201.8 188.8,201.8 189.6,201.4 190.4,201.3 191.2,201.1 192.0,201.4 192.8,201.2 193.6,201.1 194.4,201.9 195.2,201.6 196.0,201.5 196.8,201.2 197.6,201.9 198.4,201.2 199.2,201.3 200.0,201.8 200.8,202.0 201.6,202.4 202.4,202.1 203.2,202.4 204.0,202.4 204.8,202.1 205.6,202.1 206.4,201.1 207.2,201.3 208.0,201.0 208.8,202.4 209.6,202.2 210.4,202.0 211.2,201.5 212.0,201.6 212.8,201.3 213.6,202.1 214.4,202.6 215.2,201.6 216.0,201.2 216.8,201.4 217.6,201.7 218.4,202.6 219.2,202.4 220.0,201.9 220.8,201.4 221.6,201.4 222.4,201.5 223.2,202.4 224.0,202.0 224.8,202.8 225.6,202.7 226.4,202.5 227.2,202.0 228.0,202.6 228.8,201.5 229.6,201.5 230.4,202.2 231.2,202.1 232.0,201.7 232.8,201.8 233.6,201.4 234.4,202.8 235.2,202.5 236.0,202.9 236.8,203.0 237.6,202.1 238.4,202.6 239.2,202.1 240.0,202.8 240.8,202.8 241.6,201.7 242.4,201.6 243.2,201.9 244.0,202.5 244.8,202.2 245.6,201.7 246.4,202.9 247.2,202.9 248.0,202.4 248.8,201.8 249.6,203.1 250.4,202.6 251.2,201.9 252.0,202.3 252.8,202.8 252.8,219.5 252.0,220.9 251.2,218.8 250.4,223.0 249.6,219.8 248.8,224.6 248.0,222.8 247.2,226.5 246.4,222.9 245.6,226.2 244.8,224.2 244.0,224.8 243.2,222.8 242.4,221.6 241.6,220.0 240.8,219.8 240.0,222.2 239.2,219.4 238.4,221.2 237.6,222.3 236.8,219.5 236.0,217.3 235.2,217.1 234.4,217.9 233.6,215.8 232.8,215.8 232.0,215.4 231.2,216.3 230.4,218.0 229.6,217.2 228.8,217.3 228.0,216.7 227.2,216.7 226.4,218.1 225.6,214.2 224.8,213.7 224.0,215.9 223.2,212.3 222.4,213.2 221.6,212.9 220.8,215.2 220.0,214.9 219.2,214.5 218.4,214.4 217.6,213.0 216.8,211.6 216.0,215.6 215.2,214.1 214.4,211.7 213.6,210.4 212.8,214.9 212.0,211.8 211.2,211.4 210.4,210.8 209.6,215.3 208.8,213.9 208.0,215.0 207.2,212.5 206.4,215.2 205.6,213.2 204.8,213.7 204.0,213.1 203.2,211.3 202.4,215.4 201.6,213.2 200.8,212.4 200.0,213.7 199.2,212.1 198.4,214.7 197.6,211.1 196.8,213.3 196.0,214.6 195.2,215.1 194.4,214.5 193.6,214.5 192.8,212.3 192.0,215.3 191.2,215.1 190.4,211.8 189.6,210.8 188.8,212.8 188.0,211.9 187.2,212.1 186.4,214.5 185.6,215.8 184.8,215.0 184.0,214.6 183.2,215.5 182.4,214.1 181.6,215.8 180.8,213.0 180.0,211.3 179.2,212.4 178.4,212.6 177.6,212.3 176.8,212.1 176.0,214.4 175.2,213.1 174.4,215.7 173.6,211.8 172.8,215.4 172.0,213.1 171.2,215.2 170.4,214.4 169.6,211.1 168.8,214.6 168.0,215.2 167.2,215.6 166.4,215.0 165.6,214.7 164.8,215.7 164.0,214.3 163.2,214.1 162.4,213.1 161.6,213.4 160.8,213.7 160.0,214.1 159.2,214.6 158.4,211.7 157.6,211.5 156.8,211.1 156.0,215.0 155.2,216.1 154.4,214.2 153.6,211.9 152.8,215.1 152.0,212.7 151.2,213.1 150.4,211.7 149.6,215.5 148.8,215.6 148.0,215.0 147.2,211.7 146.4,213.1 145.6,214.0 144.8,216.3 144.0,211.8 143.2,213.5 142.4,212.4 141.6,214.6 140.8,212.0 140.0,213.7 139.2,215.5 138.4,215.6 137.6,211.5 136.8,215.2 136.0,211.4 135.2,213.4 134.4,212.9 133.6,214.2 132.8,211.7 132.0,211.9 131.2,215.5 130.4,214.5 129.6,214.6 128.8,214.1 128.0,215.7 127.2,214.4 126.4,215.9 125.6,211.6 124.8,216.2 124.0,216.1 123.2,215.6 122.4,212.1 121.6,214.2 120.8,212.4 120.0,215.7 119.2,212.6 118.4,215.3 117.6,216.6 116.8,212.2 116.0,215.5 115.2,211.8 114.4,212.5 113.6,213.1 112.8,216.4 112.0,215.0 111.2,216.5 110.4,215.2 109.6,212.9 108.8,216.5 108.0,213.0 107.2,212.1 106.4,212.0 105.6,215.9 104.8,216.8 104.0,212.3 103.2,212.1 102.4,215.7 101.6,215.1 100.8,216.1 100.0,215.9 99.2,213.9 98.4,213.1 97.6,217.0 96.8,213.2 96.0,212.3 95.2,215.0 94.4,216.6 93.6,212.7 92.8,214.4 92.0,215.5 91.2,215.3 90.4,213.3 89.6,215.7 88.8,215.5 88.0,214.1 87.2,214.5 86.4,212.4 85.6,215.8 84.8,212.5 84.0,214.4 83.2,215.7 82.4,215.4 81.6,215.2 80.8,214.5 80.0,213.2 79.2,212.8 78.4,215.2 77.6,212.8 76.8,214.2 76.0,216.9 75.2,213.5 74.4,213.3 73.6,215.5 72.8,214.8 72.0,216.8"/>
<path d="M72.8 217.7h.01M73.6 217.9h.01M74.4 221.5h.01M77.6 216.3h.01M79.2 216.5h.01M81.6 215.8h.01M83.2 215.5h.01M84.8 215.6h.01M86.4 216.9h.01M87.2 216.7h.01M88.0 215.5h.01M89.6 219.0h.01M90.4 218.7h.01M91.2 215.8h.01M92.0 218.1h.01M95.2 218.1h.01M96.0 220.1h.01M96.8 216.5h.01M99.2 215.7h.01M100.0 216.9h.01M100.8 215.3h.01M101.6 215.9h.01M102.4 215.8h.01M105.6 215.9h.01M109.6 219.9h.01M112.0 217.8h.01M112.8 220.2h.01M113.6 215.6h.01M116.0 221.7h.01M117.6 216.1h.01M118.4 219.1h.01M119.2 218.3h.01M120.0 215.2h.01M120.8 216.9h.01M121.6 217.8h.01M124.8 218.8h.01M126.4 214.8h.01M130.4 216.2h.01M131.2 215.8h.01M133.6 214.8h.01M134.4 215.4h.01M135.2 216.4h.01M137.6 219.2h.01M139.2 216.6h.01M144.8 215.2h.01M146.4 217.8h.01M147.2 214.4h.01M148.8 216.7h.01M150.4 215.9h.01M151.2 217.3h.01M152.0 219.2h.01M153.6 218.0h.01M155.2 215.4h.01M156.0 219.9h.01M156.8 219.5h.01M157.6 218.2h.01M159.2 214.8h.01M160.0 216.2h.01M161.6 217.7h.01M165.6 217.1h.01M166.4 215.3h.01M168.0 216.6h.01M168.8 214.4h.01M171.2 219.8h.01M174.4 215.1h.01M175.2 216.2h.01M178.4 217.3h.01M179.2 217.1h.01M180.0 216.3h.01M181.6 214.2h.01M184.0 216.8h.01M188.8 218.3h.01M191.2 214.5h.01M193.6 220.6h.01M194.4 217.0h.01M195.2 220.0h.01M196.0 215.3h.01M197.6 216.4h.01M198.4 218.1h.01M199.2 214.2h.01M200.0 216.0h.01M200.8 216.3h.01M201.6 215.4h.01M204.8 214.5h.01M205.6 216.7h.01M207.2 214.4h.01M208.0 215.2h.01M214.4 213.8h.01M215.2 216.2h.01M220.0 218.0h.01M221.6 215.2h.01M222.4 216.9h.01M224.0 215.6h.01M224.8 216.3h.01M226.4 221.1h.01M227.2 223.9h.01M228.0 220.0h.01M228.8 219.7h.01M229.6 217.7h.01M231.2 219.2h.01M232.0 218.7h.01M232.8 221.9h.01M233.6 222.2h.01M236.0 221.8h.01M238.4 221.0h.01M239.2 222.2h.01M240.8 224.9h.01M243.2 225.6h.01M246.4 226.7h.01M247.2 227.0h.01M248.0 227.6h.01M248.8 224.8h.01M250.4 222.7h.01M251.2 224.1h.01M252.8 220.3h.01" stroke="#9d9bce" stroke-width="1.8" stroke-linecap="round" fill="none"/>
<polygon fill="#9d9bce" points="327.5,202.5 328.3,201.7 329.1,201.8 329.9,202.3 330.7,202.3 331.5,202.2 332.3,202.6 333.1,201.5 333.9,201.6 334.7,202.1 335.5,201.5 336.3,201.3 337.1,201.4 337.9,202.2 338.7,202.2 339.5,202.0 340.3,202.4 341.1,202.1 341.9,201.3 342.7,201.3 343.5,201.9 344.3,200.8 345.1,201.7 345.9,200.8 346.7,200.7 347.5,201.4 348.3,200.8 349.1,202.0 349.9,201.9 350.7,201.2 351.5,200.8 352.3,200.6 353.1,201.2 353.9,201.2 354.7,200.9 355.5,201.4 356.3,201.1 357.1,201.5 357.9,200.4 358.7,200.3 359.5,200.8 360.3,200.9 361.1,200.5 361.9,201.1 362.7,200.4 363.5,200.5 364.3,200.7 365.1,201.1 365.9,201.1 366.7,200.5 367.5,200.6 368.3,201.3 369.1,201.2 369.9,200.7 370.7,199.9 371.5,200.4 372.3,200.7 373.1,200.1 373.9,199.7 374.7,201.1 375.5,201.0 376.3,199.7 377.1,200.2 377.9,200.4 378.7,199.9 379.5,199.5 380.3,200.6 381.1,200.6 381.9,200.0 382.7,199.4 383.5,199.9 384.3,199.4 385.1,200.7 385.9,199.3 386.7,199.6 387.5,200.3 388.3,199.3 389.1,199.3 389.9,199.2 390.7,199.3 391.5,199.8 392.3,200.3 393.1,199.2 393.9,199.2 394.7,200.1 395.5,199.5 396.3,199.4 397.1,199.0 397.9,199.1 398.7,200.2 399.5,198.9 400.3,199.1 401.1,199.7 401.9,199.9 402.7,199.8 403.5,199.1 404.3,199.8 405.1,199.2 405.9,198.6 406.7,198.8 407.5,199.1 408.3,199.1 409.1,198.1 409.9,198.1 410.7,199.2 411.5,197.8 412.3,198.8 413.1,198.0 413.9,197.8 414.7,197.8 415.5,198.0 416.3,198.8 417.1,197.4 417.9,198.4 418.7,197.5 419.5,197.2 420.3,198.0 421.1,197.4 421.9,197.1 422.7,197.4 423.5,198.0 424.3,198.0 425.1,197.5 425.9,196.6 426.7,197.7 427.5,197.5 428.3,197.9 429.1,197.9 429.9,196.9 430.7,197.7 431.5,197.6 432.3,196.7 433.1,196.8 433.9,196.8 434.7,196.7 435.5,196.7 436.3,196.3 437.1,196.4 437.9,197.4 438.7,196.6 439.5,196.9 440.3,197.3 441.1,197.0 441.9,196.2 442.7,197.2 443.5,197.0 444.3,197.2 445.1,196.8 445.9,196.8 446.7,196.8 447.5,195.9 448.3,196.5 449.1,196.0 449.9,196.7 450.7,195.6 451.5,196.2 452.3,195.8 453.1,196.6 453.9,195.8 454.7,196.5 455.5,196.5 456.3,196.5 457.1,195.4 457.9,196.6 458.7,196.3 459.5,196.1 460.3,196.1 461.1,195.1 461.9,196.3 462.7,195.8 463.5,195.6 464.3,195.4 465.1,196.1 465.9,196.1 466.7,196.2 467.5,195.1 468.3,195.3 469.1,195.1 469.9,194.9 470.7,195.2 471.5,194.7 472.3,195.9 473.1,195.0 473.9,194.7 474.7,194.7 475.5,195.7 476.3,194.8 477.1,195.2 477.9,195.1 478.7,195.7 479.5,195.9 480.3,194.9 481.1,195.3 481.9,195.7 482.7,195.0 483.5,195.6 484.3,195.4 485.1,194.7 485.9,195.5 486.7,195.0 487.5,194.3 488.3,195.0 489.1,195.4 489.9,194.8 490.7,194.8 491.5,194.6 492.3,195.3 493.1,195.0 493.9,194.2 494.7,194.4 495.5,194.4 496.3,195.3 497.1,194.9 497.9,194.0 498.7,195.2 499.5,193.8 500.3,194.6 501.1,194.3 501.9,194.7 502.7,194.3 503.5,193.7 504.3,194.4 505.1,194.8 505.9,194.7 506.7,194.0 507.5,193.8 508.3,194.6 508.3,207.8 507.5,208.9 506.7,207.2 505.9,205.1 505.1,208.5 504.3,207.7 503.5,205.4 502.7,208.9 501.9,206.9 501.1,206.0 500.3,206.1 499.5,206.1 498.7,208.9 497.9,210.4 497.1,210.3 496.3,206.6 495.5,206.7 494.7,207.5 493.9,207.7 493.1,210.5 492.3,207.4 491.5,210.6 490.7,209.1 489.9,208.8 489.1,206.7 488.3,206.6 487.5,206.4 486.7,209.1 485.9,209.5 485.1,206.0 484.3,206.6 483.5,206.3 482.7,206.2 481.9,211.1 481.1,209.2 480.3,210.0 479.5,210.7 478.7,206.7 477.9,208.2 477.1,210.7 476.3,210.2 475.5,207.4 474.7,208.6 473.9,211.2 473.1,207.0 472.3,211.2 471.5,209.4 470.7,211.4 469.9,211.3 469.1,210.4 468.3,210.5 467.5,208.1 466.7,207.1 465.9,208.0 465.1,207.6 464.3,211.0 463.5,207.3 462.7,208.0 461.9,207.1 461.1,210.6 460.3,207.9 459.5,211.3 458.7,208.9 457.9,208.6 457.1,210.0 456.3,212.0 455.5,209.2 454.7,209.4 453.9,209.3 453.1,208.8 452.3,211.5 451.5,210.6 450.7,209.5 449.9,209.3 449.1,210.1 448.3,210.9 447.5,212.5 446.7,210.5 445.9,209.6 445.1,212.4 444.3,209.7 443.5,210.4 442.7,210.4 441.9,209.6 441.1,208.2 440.3,212.1 439.5,212.7 438.7,208.7 437.9,209.1 437.1,210.3 436.3,211.1 435.5,213.1 434.7,210.1 433.9,211.8 433.1,211.4 432.3,212.5 431.5,212.8 430.7,210.4 429.9,209.3 429.1,213.4 428.3,212.4 427.5,212.0 426.7,211.5 425.9,210.3 425.1,211.0 424.3,210.9 423.5,213.5 422.7,212.1 421.9,210.7 421.1,212.7 420.3,213.3 419.5,209.1 418.7,212.0 417.9,213.5 417.1,209.9 416.3,211.2 415.5,212.8 414.7,211.1 413.9,211.5 413.1,211.2 412.3,211.4 411.5,214.4 410.7,213.0 409.9,209.9 409.1,210.4 408.3,210.3 407.5,212.6 406.7,210.7 405.9,212.1 405.1,214.5 404.3,212.2 403.5,214.8 402.7,212.1 401.9,212.3 401.1,210.9 400.3,212.5 399.5,211.6 398.7,211.0 397.9,210.5 397.1,211.2 396.3,211.0 395.5,211.7 394.7,213.4 393.9,212.4 393.1,211.1 392.3,211.4 391.5,211.6 390.7,214.3 389.9,212.2 389.1,215.6 388.3,213.8 387.5,212.9 386.7,211.3 385.9,214.1 385.1,214.7 384.3,211.1 383.5,211.2 382.7,213.0 381.9,215.6 381.1,211.1 380.3,215.6 379.5,215.2 378.7,212.4 377.9,214.6 377.1,214.7 376.3,214.9 375.5,214.8 374.7,214.2 373.9,212.2 373.1,215.9 372.3,214.4 371.5,212.3 370.7,214.1 369.9,212.9 369.1,212.9 368.3,215.6 367.5,215.6 366.7,213.8 365.9,212.2 365.1,212.8 364.3,214.9 363.5,215.3 362.7,215.0 361.9,214.4 361.1,214.5 360.3,216.5 359.5,215.7 358.7,217.9 357.9,217.2 357.1,214.9 356.3,217.2 355.5,219.3 354.7,217.3 353.9,219.8 353.1,219.7 352.3,219.8 351.5,218.0 350.7,215.8 349.9,216.9 349.1,220.9 348.3,218.4 347.5,221.4 346.7,221.2 345.9,220.5 345.1,222.6 344.3,219.3 343.5,222.8 342.7,221.9 341.9,224.5 341.1,224.7 340.3,220.9 339.5,224.2 338.7,224.2 337.9,225.2 337.1,224.2 336.3,227.7 335.5,226.6 334.7,227.6 333.9,228.1 333.1,232.9 332.3,231.5 331.5,229.2 330.7,229.0 329.9,231.1 329.1,228.3 328.3,222.7 327.5,223.4"/>
<path d="M329.9 234.9h.01M333.1 235.7h.01M333.9 233.7h.01M334.7 232.3h.01M337.9 226.5h.01M341.1 226.0h.01M345.1 222.9h.01M350.7 220.5h.01M352.3 219.8h.01M354.7 219.0h.01M356.3 222.1h.01M357.1 219.5h.01M361.1 217.6h.01M362.7 216.6h.01M363.5 220.4h.01M364.3 219.6h.01M365.9 215.9h.01M366.7 219.6h.01M369.1 216.3h.01M369.9 216.8h.01M373.1 219.4h.01M376.3 216.7h.01M378.7 214.2h.01M380.3 215.8h.01M383.5 215.9h.01M384.3 216.1h.01M385.9 215.1h.01M388.3 213.9h.01M392.3 215.3h.01M393.1 214.3h.01M394.7 214.8h.01M395.5 216.6h.01M396.3 216.4h.01M397.9 214.7h.01M399.5 216.6h.01M404.3 215.3h.01M405.1 217.6h.01M407.5 215.6h.01M411.5 214.2h.01M412.3 216.1h.01M413.1 214.8h.01M414.7 215.0h.01M415.5 217.2h.01M417.1 214.1h.01M418.7 220.5h.01M419.5 214.4h.01M421.9 214.6h.01M422.7 212.9h.01M423.5 213.8h.01M427.5 213.6h.01M432.3 213.6h.01M433.9 213.1h.01M435.5 215.3h.01M436.3 211.7h.01M437.9 213.7h.01M442.7 215.0h.01M443.5 218.2h.01M444.3 214.6h.01M445.9 216.6h.01M448.3 214.1h.01M449.1 213.3h.01M449.9 215.9h.01M451.5 213.4h.01M452.3 213.2h.01M453.9 211.0h.01M456.3 211.6h.01M457.9 212.1h.01M463.5 212.4h.01M465.9 211.9h.01M466.7 211.4h.01M467.5 212.3h.01M469.1 213.1h.01M472.3 210.2h.01M473.1 209.8h.01M473.9 210.1h.01M474.7 214.7h.01M476.3 212.4h.01M477.1 211.4h.01M477.9 209.7h.01M483.5 211.3h.01M484.3 211.5h.01M485.1 210.5h.01M486.7 210.4h.01M488.3 212.3h.01M489.1 209.8h.01M491.5 211.3h.01M492.3 210.3h.01M494.7 209.1h.01M496.3 211.3h.01M497.1 208.7h.01M500.3 210.0h.01M501.9 211.1h.01M503.5 208.8h.01M504.3 211.2h.01M505.1 211.9h.01M505.9 217.0h.01M506.7 209.1h.01M507.5 209.9h.01" stroke="#9d9bce" stroke-width="1.8" stroke-linecap="round" fill="none"/>
<polygon fill="#9d9bce" points="244.0,216.0 249.0,216.0 247.0,223.7 246.0,223.7"/>
<path d="M245.2 222.0h.01M246.7 217.0h.01M246.9 229.9h.01M246.5 217.4h.01M245.5 222.8h.01M246.5 225.4h.01M246.1 227.3h.01M246.9 229.1h.01M245.3 222.6h.01M245.2 222.8h.01" stroke="#9d9bce" stroke-width="1.5" stroke-linecap="round" fill="none"/>
<polygon fill="#9d9bce" points="330.4,216.0 335.6,216.0 333.5,229.2 332.5,229.2"/>
<path d="M333.5 232.5h.01M334.4 229.9h.01M334.2 217.1h.01M332.3 235.2h.01M331.1 223.7h.01M333.7 230.0h.01M333.8 224.4h.01M333.9 224.8h.01M335.2 222.6h.01M331.2 226.5h.01M334.2 218.2h.01M333.2 236.8h.01M334.9 219.7h.01M332.1 233.2h.01" stroke="#9d9bce" stroke-width="1.5" stroke-linecap="round" fill="none"/>
<path d="M253.4 206.0 C253.4 202.4 253.3 179.6 253.7 170.0 C254.1 160.4 256.5 117.8 257.0 110.0 C257.5 102.2 258.1 94.8 258.3 92.0 C258.6 89.2 259.1 83.4 259.5 81.5 C259.9 79.6 261.5 74.8 262.0 72.9 C262.5 71.0 264.2 64.1 264.7 62.5 C265.2 60.9 266.8 58.2 267.3 57.3 C267.8 56.4 269.4 54.1 270.0 53.5 C270.6 52.9 272.8 51.3 273.5 51.2 C274.2 51.1 276.2 52.7 276.9 52.9 C277.6 53.1 279.9 52.6 280.4 52.9 C280.9 53.2 281.3 54.5 281.5 55.8 C281.7 57.1 282.4 64.7 282.7 66.2 C283.0 67.7 284.0 69.4 284.4 70.8 C284.8 72.2 285.8 78.2 286.2 80.0 C286.6 81.8 287.6 87.8 287.9 89.2 C288.2 90.6 289.3 94.0 289.6 93.8 C289.9 93.6 290.9 87.5 291.3 86.9 C291.7 86.3 292.8 87.2 293.1 88.1 C293.5 89.0 294.4 96.3 294.8 96.2 C295.2 96.1 296.7 88.5 297.1 86.9 C297.5 85.3 298.5 81.0 298.8 80.0 C299.1 79.0 299.9 77.0 300.2 77.1 C300.5 77.2 301.4 79.8 301.7 81.2 C302.0 82.6 303.1 89.8 303.5 91.5 C303.9 93.2 304.9 97.6 305.2 98.5 C305.5 99.4 306.1 101.0 306.3 100.8 C306.5 100.6 307.2 97.0 307.5 96.2 C307.8 95.4 308.8 92.9 309.2 92.7 C309.6 92.5 310.6 94.1 311.0 93.8 C311.4 93.5 312.8 90.0 313.3 89.2 C313.8 88.4 315.2 85.7 315.6 85.8 C316.0 85.9 316.9 89.2 317.3 89.8 C317.7 90.4 319.2 91.2 319.6 92.1 C320.0 93.0 321.0 96.7 321.3 98.5 C321.6 100.3 322.1 105.8 322.5 110.0 C322.9 114.2 324.6 134.0 325.0 140.0 C325.4 146.0 326.7 163.4 327.0 170.0 C327.3 176.6 327.9 202.4 328.0 206.0" fill="none" stroke="#938fc6" stroke-width="1.9"/>
<polygon fill="#3852e4" points="72.0,192.3 72.8,192.8 73.6,191.9 74.4,192.0 75.2,192.5 76.0,193.3 76.8,193.5 77.6,192.6 78.4,193.5 79.2,193.4 80.0,193.5 80.8,193.2 81.6,193.8 82.4,193.4 83.2,193.9 84.0,193.4 84.8,192.9 85.6,193.4 86.4,193.4 87.2,193.3 88.0,193.4 88.8,193.6 89.6,193.8 90.4,193.3 91.2,193.5 92.0,193.8 92.8,193.9 93.6,193.8 94.4,194.2 95.2,193.6 96.0,194.1 96.8,193.8 97.6,194.6 98.4,194.5 99.2,194.7 100.0,194.4 100.8,194.0 101.6,195.0 102.4,194.5 103.2,194.4 104.0,194.3 104.8,194.5 105.6,195.0 106.4,195.2 107.2,194.8 108.0,195.2 108.8,194.5 109.6,194.9 110.4,194.8 111.2,194.8 112.0,194.9 112.8,195.5 113.6,195.5 114.4,194.8 115.2,194.9 116.0,195.7 116.8,195.6 117.6,195.6 118.4,195.6 119.2,195.7 120.0,195.2 120.8,194.9 121.6,195.4 122.4,195.0 123.2,196.3 124.0,195.7 124.8,196.0 125.6,196.4 126.4,196.2 127.2,195.5 128.0,195.7 128.8,195.4 129.6,196.4 130.4,196.4 131.2,196.0 132.0,195.9 132.8,195.8 133.6,196.2 134.4,196.5 135.2,196.8 136.0,196.8 136.8,196.9 137.6,196.3 138.4,196.3 139.2,196.2 140.0,197.2 140.8,196.1 141.6,196.1 142.4,196.3 143.2,197.3 144.0,197.2 144.8,196.5 145.6,197.3 146.4,197.4 147.2,196.8 148.0,196.5 148.8,197.3 149.6,196.8 150.4,196.5 151.2,197.6 152.0,197.0 152.8,197.0 153.6,197.3 154.4,196.8 155.2,196.5 156.0,197.1 156.8,197.1 157.6,196.6 158.4,197.2 159.2,197.7 160.0,197.2 160.8,197.7 161.6,197.6 162.4,197.1 163.2,196.9 164.0,197.8 164.8,197.8 165.6,197.3 166.4,197.2 167.2,198.2 168.0,198.3 168.8,197.4 169.6,197.9 170.4,197.9 171.2,197.6 172.0,197.2 172.8,197.7 173.6,198.2 174.4,198.1 175.2,198.0 176.0,197.5 176.8,197.7 177.6,197.9 178.4,198.0 179.2,198.0 180.0,198.8 180.8,197.7 181.6,199.0 182.4,198.0 183.2,198.8 184.0,198.0 184.8,198.5 185.6,198.3 186.4,197.8 187.2,198.9 188.0,198.9 188.8,198.2 189.6,198.9 190.4,198.5 191.2,199.2 192.0,198.0 192.8,198.4 193.6,198.2 194.4,198.8 195.2,199.0 196.0,199.1 196.8,198.7 197.6,198.5 198.4,199.1 199.2,198.1 200.0,198.4 200.8,199.1 201.6,198.6 202.4,199.4 203.2,198.2 204.0,198.7 204.8,198.4 205.6,198.1 206.4,198.2 207.2,198.2 208.0,198.6 208.8,198.7 209.6,198.9 210.4,198.6 211.2,199.1 212.0,198.9 212.8,199.6 213.6,198.4 213.6,212.8 212.8,216.2 212.0,214.5 211.2,218.0 210.4,218.6 209.6,218.9 208.8,220.6 208.0,218.5 207.2,221.5 206.4,217.6 205.6,219.1 204.8,217.6 204.0,218.7 203.2,217.3 202.4,217.2 201.6,217.4 200.8,215.3 200.0,213.9 199.2,217.0 198.4,214.7 197.6,216.2 196.8,213.6 196.0,216.0 195.2,214.6 194.4,214.2 193.6,216.0 192.8,212.4 192.0,213.9 191.2,213.1 190.4,214.1 189.6,214.3 188.8,212.6 188.0,212.0 187.2,212.7 186.4,215.0 185.6,214.5 184.8,214.5 184.0,211.3 183.2,213.4 182.4,213.5 181.6,212.9 180.8,215.5 180.0,212.2 179.2,212.3 178.4,213.1 177.6,214.4 176.8,212.4 176.0,215.1 175.2,214.7 174.4,212.7 173.6,215.7 172.8,212.3 172.0,213.5 171.2,215.0 170.4,213.6 169.6,214.7 168.8,212.2 168.0,215.4 167.2,214.3 166.4,214.1 165.6,215.8 164.8,212.0 164.0,212.7 163.2,215.0 162.4,215.3 161.6,215.9 160.8,213.0 160.0,215.3 159.2,213.8 158.4,216.2 157.6,215.7 156.8,215.9 156.0,216.0 155.2,213.1 154.4,213.2 153.6,212.6 152.8,212.5 152.0,214.8 151.2,212.3 150.4,212.3 149.6,213.5 148.8,212.1 148.0,213.5 147.2,216.0 146.4,212.9 145.6,215.8 144.8,214.3 144.0,215.0 143.2,215.6 142.4,213.9 141.6,215.9 140.8,212.0 140.0,214.2 139.2,215.6 138.4,212.6 137.6,215.6 136.8,213.0 136.0,215.1 135.2,216.2 134.4,216.0 133.6,211.9 132.8,214.5 132.0,212.2 131.2,214.7 130.4,215.4 129.6,216.1 128.8,213.7 128.0,213.4 127.2,215.1 126.4,214.2 125.6,215.4 124.8,213.7 124.0,212.7 123.2,214.2 122.4,215.2 121.6,214.4 120.8,214.1 120.0,214.7 119.2,213.0 118.4,212.2 117.6,214.4 116.8,213.7 116.0,212.2 115.2,214.0 114.4,213.0 113.6,213.8 112.8,212.3 112.0,214.3 111.2,212.1 110.4,214.4 109.6,212.6 108.8,214.6 108.0,214.4 107.2,212.2 106.4,212.3 105.6,213.6 104.8,213.7 104.0,214.5 103.2,214.5 102.4,215.7 101.6,212.4 100.8,211.5 100.0,214.7 99.2,213.0 98.4,215.1 97.6,213.4 96.8,214.9 96.0,212.4 95.2,213.1 94.4,213.3 93.6,214.3 92.8,214.2 92.0,212.0 91.2,213.1 90.4,212.9 89.6,215.5 88.8,213.1 88.0,212.7 87.2,215.0 86.4,212.7 85.6,212.6 84.8,213.6 84.0,214.1 83.2,211.7 82.4,212.8 81.6,215.4 80.8,211.5 80.0,212.4 79.2,213.6 78.4,213.8 77.6,212.6 76.8,212.7 76.0,215.0 75.2,212.0 74.4,214.9 73.6,212.7 72.8,213.2 72.0,213.3"/>
<path d="M75.2 217.5h.01M76.0 220.6h.01M76.8 217.1h.01M77.6 216.0h.01M78.4 216.1h.01M79.2 216.3h.01M80.0 215.8h.01M82.4 215.0h.01M84.8 216.0h.01M85.6 215.0h.01M88.8 214.7h.01M90.4 216.8h.01M92.8 215.4h.01M95.2 214.4h.01M97.6 217.5h.01M98.4 219.5h.01M99.2 216.3h.01M100.0 215.5h.01M101.6 215.4h.01M102.4 217.6h.01M104.8 214.5h.01M105.6 214.8h.01M106.4 216.1h.01M108.0 219.4h.01M108.8 214.6h.01M110.4 217.6h.01M111.2 221.0h.01M112.8 217.7h.01M113.6 215.2h.01M115.2 220.2h.01M116.0 216.9h.01M120.0 216.6h.01M122.4 218.9h.01M124.0 219.2h.01M128.0 216.2h.01M129.6 219.2h.01M132.8 217.3h.01M134.4 215.8h.01M135.2 216.0h.01M136.8 217.0h.01M139.2 215.0h.01M140.8 216.0h.01M142.4 216.2h.01M144.0 217.6h.01M144.8 217.4h.01M146.4 215.3h.01M147.2 216.1h.01M148.0 222.8h.01M150.4 215.1h.01M151.2 217.4h.01M152.0 220.7h.01M152.8 216.9h.01M153.6 215.1h.01M154.4 217.3h.01M156.0 220.8h.01M156.8 217.2h.01M158.4 218.0h.01M160.0 215.4h.01M162.4 216.0h.01M163.2 215.3h.01M164.8 215.7h.01M166.4 215.7h.01M167.2 214.8h.01M168.0 215.8h.01M168.8 216.1h.01M170.4 214.7h.01M171.2 214.8h.01M172.0 220.2h.01M173.6 217.3h.01M176.0 215.4h.01M176.8 215.7h.01M178.4 218.0h.01M180.0 216.5h.01M181.6 215.1h.01M182.4 215.0h.01M184.8 215.1h.01M185.6 217.7h.01M187.2 214.3h.01M188.0 215.9h.01M192.0 216.0h.01M194.4 219.4h.01M196.8 215.8h.01M198.4 216.3h.01M199.2 220.4h.01M201.6 218.3h.01M204.8 220.8h.01M205.6 223.0h.01M206.4 221.4h.01M207.2 222.5h.01M208.8 224.5h.01M211.2 225.6h.01" stroke="#3852e4" stroke-width="1.8" stroke-linecap="round" fill="none"/>
<polygon fill="#3852e4" points="371.0,198.0 371.8,197.1 372.6,197.8 373.4,197.8 374.2,198.0 375.0,197.9 375.8,197.9 376.6,197.0 377.4,197.7 378.2,197.2 379.0,197.0 379.8,197.0 380.6,197.6 381.4,197.6 382.2,197.6 383.0,197.3 383.8,196.6 384.6,196.6 385.4,197.1 386.2,196.6 387.0,196.7 387.8,196.4 388.6,196.4 389.4,197.2 390.2,196.5 391.0,197.3 391.8,196.6 392.6,197.3 393.4,196.5 394.2,196.4 395.0,196.5 395.8,196.0 396.6,196.5 397.4,196.4 398.2,195.9 399.0,197.0 399.8,196.3 400.6,195.7 401.4,197.0 402.2,195.9 403.0,195.9 403.8,195.5 404.6,195.5 405.4,196.3 406.2,196.1 407.0,195.9 407.8,195.4 408.6,195.4 409.4,196.3 410.2,195.4 411.0,196.2 411.8,196.0 412.6,194.8 413.4,195.8 414.2,194.6 415.0,195.4 415.8,195.5 416.6,195.3 417.4,195.0 418.2,195.3 419.0,194.3 419.8,194.8 420.6,194.3 421.4,194.5 422.2,194.2 423.0,194.8 423.8,194.6 424.6,194.9 425.4,194.6 426.2,194.5 427.0,194.9 427.8,194.7 428.6,194.4 429.4,194.0 430.2,194.8 431.0,194.0 431.8,193.6 432.6,193.8 433.4,194.3 434.2,194.6 435.0,194.2 435.8,194.1 436.6,194.5 437.4,194.2 438.2,193.7 439.0,193.7 439.8,194.1 440.6,193.4 441.4,193.1 442.2,193.8 443.0,194.0 443.8,193.2 444.6,193.7 445.4,194.0 446.2,192.9 447.0,192.8 447.8,193.3 448.6,193.0 449.4,193.9 450.2,193.9 451.0,193.1 451.8,193.5 452.6,193.3 453.4,192.6 454.2,193.7 455.0,192.6 455.8,192.4 456.6,192.9 457.4,192.3 458.2,192.9 459.0,192.8 459.8,193.5 460.6,192.7 461.4,193.3 462.2,193.2 463.0,192.9 463.8,192.4 464.6,192.4 465.4,192.7 466.2,192.5 467.0,192.8 467.8,192.6 468.6,192.3 469.4,192.7 470.2,193.2 471.0,192.1 471.8,192.2 472.6,191.8 473.4,191.8 474.2,191.8 475.0,192.2 475.8,192.8 476.6,192.6 477.4,192.9 478.2,192.7 479.0,192.3 479.8,192.3 480.6,191.5 481.4,192.0 482.2,191.8 483.0,192.3 483.8,191.4 484.6,192.1 485.4,191.8 486.2,192.0 487.0,191.8 487.8,191.4 488.6,192.2 489.4,192.3 490.2,192.0 491.0,191.3 491.8,191.9 492.6,192.3 493.4,192.4 494.2,192.1 495.0,191.0 495.8,192.2 496.6,191.9 497.4,191.3 498.2,192.2 499.0,192.0 499.8,192.1 500.6,191.1 501.4,191.6 502.2,191.3 503.0,191.1 503.8,191.7 504.6,191.5 505.4,191.1 506.2,191.4 507.0,191.9 507.8,191.3 508.6,191.8 508.6,206.4 507.8,207.7 507.0,204.2 506.2,207.9 505.4,205.8 504.6,207.8 503.8,207.7 503.0,207.8 502.2,205.8 501.4,205.8 500.6,205.1 499.8,206.1 499.0,205.2 498.2,206.8 497.4,208.0 496.6,207.2 495.8,206.8 495.0,204.5 494.2,205.7 493.4,208.0 492.6,207.8 491.8,205.8 491.0,206.2 490.2,208.6 489.4,206.1 488.6,204.9 487.8,207.6 487.0,206.5 486.2,204.7 485.4,205.4 484.6,205.4 483.8,208.2 483.0,206.9 482.2,206.4 481.4,208.6 480.6,208.6 479.8,206.2 479.0,206.7 478.2,207.4 477.4,208.5 476.6,205.9 475.8,206.1 475.0,205.7 474.2,208.1 473.4,206.1 472.6,206.1 471.8,206.6 471.0,205.5 470.2,208.1 469.4,207.4 468.6,208.5 467.8,208.3 467.0,208.6 466.2,206.2 465.4,206.7 464.6,205.3 463.8,207.3 463.0,207.1 462.2,209.2 461.4,208.3 460.6,206.5 459.8,205.8 459.0,208.5 458.2,205.9 457.4,208.9 456.6,205.9 455.8,206.4 455.0,209.6 454.2,207.3 453.4,206.2 452.6,206.5 451.8,209.5 451.0,208.0 450.2,209.4 449.4,207.3 448.6,206.5 447.8,207.5 447.0,209.6 446.2,209.7 445.4,206.8 444.6,209.3 443.8,209.5 443.0,207.5 442.2,210.4 441.4,210.3 440.6,207.1 439.8,209.0 439.0,207.7 438.2,207.9 437.4,209.2 436.6,210.6 435.8,209.9 435.0,209.9 434.2,208.3 433.4,211.1 432.6,210.7 431.8,208.5 431.0,211.7 430.2,211.2 429.4,210.5 428.6,211.3 427.8,211.4 427.0,208.6 426.2,212.1 425.4,212.5 424.6,208.8 423.8,210.0 423.0,212.8 422.2,213.6 421.4,210.5 420.6,213.4 419.8,213.6 419.0,210.7 418.2,212.6 417.4,214.1 416.6,211.2 415.8,213.5 415.0,214.2 414.2,212.6 413.4,212.0 412.6,212.3 411.8,213.3 411.0,212.3 410.2,216.1 409.4,214.3 408.6,213.5 407.8,215.4 407.0,212.3 406.2,215.7 405.4,213.6 404.6,212.5 403.8,211.3 403.0,215.4 402.2,214.6 401.4,213.5 400.6,211.7 399.8,214.4 399.0,212.3 398.2,212.4 397.4,212.9 396.6,211.6 395.8,214.7 395.0,213.8 394.2,214.5 393.4,212.8 392.6,211.5 391.8,212.8 391.0,212.5 390.2,213.4 389.4,211.4 388.6,212.2 387.8,211.7 387.0,214.3 386.2,213.7 385.4,211.1 384.6,214.7 383.8,211.7 383.0,215.7 382.2,213.6 381.4,212.5 380.6,217.0 379.8,216.3 379.0,216.0 378.2,217.0 377.4,216.8 376.6,217.9 375.8,220.0 375.0,219.4 374.2,219.2 373.4,219.3 372.6,216.6 371.8,219.0 371.0,215.0"/>
<path d="M371.8 219.9h.01M373.4 223.4h.01M374.2 224.2h.01M375.8 218.7h.01M376.6 221.5h.01M377.4 219.1h.01M378.2 221.7h.01M379.8 218.3h.01M383.8 216.7h.01M384.6 217.5h.01M386.2 215.3h.01M387.8 215.5h.01M388.6 216.0h.01M391.8 213.0h.01M393.4 215.8h.01M395.8 215.1h.01M396.6 214.1h.01M399.0 214.3h.01M401.4 217.2h.01M402.2 216.3h.01M403.0 218.1h.01M405.4 217.9h.01M407.0 216.1h.01M407.8 215.5h.01M410.2 215.0h.01M411.0 215.2h.01M411.8 216.7h.01M415.0 215.5h.01M416.6 217.5h.01M418.2 217.7h.01M420.6 213.4h.01M421.4 213.2h.01M422.2 218.1h.01M423.0 215.7h.01M424.6 215.6h.01M425.4 212.3h.01M427.0 213.6h.01M431.0 210.7h.01M432.6 210.0h.01M434.2 210.2h.01M435.0 212.4h.01M439.0 209.9h.01M440.6 211.6h.01M441.4 212.0h.01M443.0 213.8h.01M445.4 213.2h.01M447.0 210.0h.01M447.8 209.8h.01M448.6 210.2h.01M451.0 209.1h.01M452.6 210.3h.01M453.4 208.8h.01M454.2 212.3h.01M456.6 208.6h.01M458.2 213.1h.01M460.6 209.7h.01M461.4 210.7h.01M462.2 208.8h.01M463.8 208.6h.01M464.6 210.1h.01M465.4 209.6h.01M466.2 209.1h.01M467.0 209.2h.01M467.8 210.9h.01M468.6 209.6h.01M471.8 212.5h.01M474.2 210.4h.01M475.0 210.8h.01M475.8 210.4h.01M478.2 208.2h.01M480.6 209.6h.01M483.0 209.6h.01M484.6 209.5h.01M486.2 207.5h.01M487.0 208.7h.01M488.6 207.5h.01M491.0 208.4h.01M491.8 207.4h.01M493.4 210.4h.01M494.2 209.6h.01M496.6 207.6h.01M499.0 209.8h.01M501.4 211.0h.01M503.0 207.7h.01M503.8 211.4h.01M505.4 206.6h.01M507.0 207.5h.01" stroke="#3852e4" stroke-width="1.8" stroke-linecap="round" fill="none"/>
<polygon fill="#3852e4" points="206.5,219 213.4,197 216.3,181 217.4,183 215.8,197 214.6,213"/>
<polygon fill="#3852e4" points="376,218 371.4,197 368.8,178 367.8,180 369.4,197 370.4,213"/>
<path d="M213.6 205.0 C213.6 204.0 213.5 197.2 213.8 195.0 C214.1 192.8 215.7 187.0 216.3 182.5 C216.9 178.0 219.2 156.2 220.0 150.0 C220.8 143.8 223.2 124.5 223.8 120.0 C224.5 115.5 225.9 107.4 226.5 105.0 C227.1 102.6 229.3 98.2 230.0 96.0 C230.7 93.8 233.1 85.0 233.8 82.5 C234.6 80.0 236.8 72.8 237.5 71.0 C238.2 69.2 240.2 65.8 241.0 65.0 C241.8 64.2 245.1 63.4 246.0 63.0 C246.9 62.6 249.2 61.7 250.0 61.5 C250.8 61.3 252.9 60.6 253.5 60.8 C254.1 61.0 255.5 62.2 256.0 63.4 C256.5 64.6 258.2 71.9 258.6 72.9 C259.0 73.9 259.7 74.4 260.0 73.7 C260.3 73.0 261.5 67.4 262.0 66.0 C262.5 64.6 264.2 60.8 264.7 59.9 C265.2 59.0 266.8 57.3 267.3 57.3 C267.8 57.3 269.5 60.1 270.0 60.2 C270.5 60.3 271.7 58.1 272.3 58.1 C272.9 58.1 275.1 60.3 275.8 60.4 C276.5 60.5 278.5 59.5 279.2 59.2 C279.9 58.9 281.9 58.0 282.7 57.5 C283.5 57.0 286.4 55.1 287.3 54.6 C288.2 54.1 290.6 53.2 291.3 52.9 C292.0 52.6 293.6 52.0 294.2 51.7 C294.8 51.4 297.0 49.7 297.7 50.0 C298.4 50.3 300.4 53.6 301.2 54.6 C301.9 55.6 304.5 60.1 305.2 60.5 C305.9 60.9 307.4 58.9 308.1 58.1 C308.9 57.3 311.9 53.6 312.7 52.9 C313.4 52.2 315.0 51.1 315.6 51.2 C316.2 51.3 317.9 52.5 318.5 53.5 C319.1 54.5 321.2 59.4 321.9 61.0 C322.6 62.6 325.0 68.9 325.6 69.5 C326.2 70.1 327.3 67.8 327.7 67.3 C328.1 66.8 329.3 65.8 330.0 65.0 C330.7 64.2 334.2 59.3 335.0 58.8 C335.8 58.3 336.9 59.0 337.5 60.0 C338.1 61.0 340.6 67.2 341.3 68.8 C342.1 70.4 344.4 74.8 345.0 76.3 C345.6 77.8 347.1 81.9 347.5 84.0 C347.9 86.1 349.1 94.2 349.5 97.0 C349.9 99.8 350.9 110.7 351.2 112.0 C351.5 113.3 352.2 111.0 352.6 110.0 C353.0 109.0 354.5 103.1 355.0 102.0 C355.5 100.9 357.1 99.0 357.5 99.0 C357.9 99.0 359.1 100.6 359.5 101.5 C359.9 102.4 360.9 105.7 361.3 108.0 C361.7 110.3 363.3 120.8 363.8 125.0 C364.3 129.2 365.8 145.0 366.3 150.0 C366.8 155.0 368.3 170.5 368.8 175.0 C369.3 179.5 370.9 192.0 371.2 195.0 C371.5 198.0 371.6 204.0 371.6 205.0" fill="none" stroke="#2f49e2" stroke-width="2.1"/>
<polygon fill="#2d88e0" points="72.0,187.4 72.8,186.6 73.6,187.0 74.4,186.2 75.2,187.0 76.0,186.4 76.8,187.8 77.6,187.5 78.4,187.1 79.2,188.1 80.0,188.1 80.8,188.2 81.6,186.8 82.4,187.9 83.2,188.0 84.0,187.8 84.8,186.9 85.6,188.4 86.4,187.7 87.2,188.0 88.0,188.4 88.8,187.6 89.6,187.2 90.4,188.8 91.2,187.7 92.0,187.4 92.8,187.6 93.6,189.1 94.4,188.7 95.2,187.9 96.0,187.8 96.8,189.1 97.6,188.8 98.4,188.7 99.2,188.0 100.0,188.5 100.8,189.5 101.6,188.0 102.4,188.7 103.2,188.1 104.0,189.8 104.8,188.3 105.6,189.8 106.4,189.7 107.2,189.5 108.0,188.4 108.8,189.6 109.6,189.3 110.4,189.3 111.2,188.8 112.0,189.5 112.8,190.0 113.6,188.9 114.4,190.2 115.2,189.5 116.0,189.2 116.8,189.2 117.6,189.7 118.4,190.0 119.2,189.9 120.0,190.5 120.8,189.9 121.6,189.9 122.4,190.8 123.2,189.5 124.0,189.2 124.8,189.8 125.6,189.8 126.4,189.5 127.2,190.1 128.0,189.5 128.8,191.0 129.6,190.3 130.4,191.0 131.2,190.7 132.0,190.8 132.8,190.9 133.6,190.2 134.4,190.9 135.2,190.1 136.0,190.7 136.8,190.8 137.6,191.2 138.4,190.2 139.2,190.5 140.0,191.4 140.8,191.4 141.6,191.7 142.4,190.3 143.2,190.5 144.0,190.4 144.8,191.5 145.6,191.5 146.4,191.4 147.2,191.7 148.0,191.3 148.8,191.4 149.6,192.0 150.4,191.6 151.2,191.7 152.0,191.6 152.8,191.4 153.6,191.9 154.4,191.6 155.2,190.9 156.0,191.5 156.8,191.5 157.6,191.5 158.4,191.8 159.2,191.5 160.0,191.6 160.8,191.7 161.6,191.6 162.4,192.6 163.2,191.2 164.0,191.1 164.8,192.3 165.6,191.8 166.4,191.9 167.2,192.2 168.0,191.8 168.8,191.7 169.6,191.3 170.4,192.8 171.2,192.9 172.0,191.9 172.8,192.2 173.6,192.0 174.4,191.6 175.2,193.0 176.0,193.0 176.8,192.0 177.6,192.0 178.4,192.8 179.2,193.0 180.0,192.5 180.8,192.4 181.6,192.2 182.4,193.2 183.2,193.3 184.0,193.3 184.8,192.1 185.6,192.9 186.4,193.6 187.2,193.2 187.2,205.3 186.4,204.8 185.6,207.8 184.8,210.2 184.0,212.0 183.2,212.0 182.4,213.9 181.6,217.8 180.8,217.7 180.0,218.5 179.2,219.9 178.4,221.5 177.6,220.4 176.8,224.3 176.0,222.2 175.2,222.4 174.4,222.0 173.6,222.9 172.8,222.4 172.0,223.1 171.2,221.9 170.4,219.3 169.6,218.3 168.8,218.3 168.0,219.6 167.2,217.2 166.4,217.7 165.6,215.5 164.8,217.4 164.0,215.0 163.2,217.0 162.4,213.4 161.6,213.9 160.8,214.8 160.0,215.1 159.2,212.4 158.4,212.8 157.6,213.0 156.8,213.5 156.0,212.2 155.2,211.1 154.4,210.5 153.6,209.8 152.8,209.8 152.0,211.3 151.2,211.7 150.4,210.8 149.6,211.0 148.8,210.9 148.0,209.3 147.2,209.0 146.4,208.9 145.6,208.7 144.8,208.8 144.0,209.5 143.2,210.3 142.4,208.1 141.6,208.2 140.8,207.5 140.0,208.6 139.2,209.4 138.4,207.0 137.6,208.6 136.8,209.0 136.0,207.8 135.2,207.1 134.4,207.1 133.6,208.1 132.8,207.8 132.0,208.5 131.2,207.2 130.4,208.9 129.6,206.3 128.8,206.6 128.0,206.8 127.2,207.7 126.4,207.1 125.6,208.4 124.8,205.9 124.0,208.0 123.2,206.2 122.4,207.7 121.6,207.1 120.8,205.7 120.0,205.9 119.2,205.5 118.4,206.6 117.6,205.2 116.8,204.9 116.0,204.4 115.2,204.0 114.4,204.0 113.6,203.8 112.8,206.1 112.0,204.5 111.2,203.8 110.4,203.3 109.6,205.3 108.8,203.5 108.0,204.5 107.2,203.4 106.4,204.2 105.6,205.4 104.8,204.4 104.0,203.3 103.2,202.9 102.4,204.1 101.6,202.6 100.8,202.3 100.0,203.2 99.2,204.2 98.4,204.1 97.6,203.3 96.8,202.3 96.0,203.9 95.2,202.9 94.4,204.9 93.6,204.8 92.8,202.8 92.0,204.0 91.2,202.2 90.4,204.2 89.6,202.9 88.8,202.5 88.0,203.3 87.2,202.5 86.4,202.0 85.6,201.6 84.8,203.6 84.0,204.2 83.2,201.9 82.4,202.4 81.6,202.9 80.8,201.3 80.0,202.9 79.2,203.9 78.4,203.7 77.6,202.3 76.8,202.9 76.0,203.3 75.2,200.8 74.4,203.0 73.6,200.7 72.8,200.9 72.0,201.9"/>
<path d="M72.0 204.0h.01M77.6 205.3h.01M79.2 204.1h.01M81.6 205.1h.01M82.4 206.4h.01M83.2 207.4h.01M85.6 206.3h.01M86.4 207.5h.01M87.2 205.5h.01M88.0 206.6h.01M88.8 207.6h.01M89.6 205.3h.01M91.2 207.5h.01M96.8 210.6h.01M97.6 209.6h.01M98.4 208.1h.01M99.2 206.0h.01M103.2 205.2h.01M104.0 205.3h.01M104.8 209.6h.01M105.6 208.3h.01M108.0 209.8h.01M108.8 210.2h.01M110.4 205.8h.01M112.0 208.9h.01M113.6 209.8h.01M114.4 210.0h.01M115.2 209.7h.01M116.0 208.9h.01M116.8 213.7h.01M120.8 208.2h.01M122.4 207.7h.01M123.2 209.4h.01M126.4 211.7h.01M127.2 208.5h.01M128.0 213.4h.01M130.4 214.9h.01M132.0 209.9h.01M133.6 214.0h.01M135.2 210.4h.01M138.4 212.9h.01M143.2 213.2h.01M147.2 213.1h.01M148.8 214.9h.01M151.2 212.3h.01M152.8 212.8h.01M153.6 213.4h.01M156.8 213.8h.01M157.6 215.9h.01M161.6 217.1h.01M162.4 216.8h.01M163.2 217.6h.01M166.4 218.3h.01M167.2 219.3h.01M168.0 221.8h.01M171.2 222.3h.01M176.0 227.8h.01M177.6 223.7h.01M182.4 216.3h.01M184.0 217.4h.01M184.8 212.3h.01M186.4 209.1h.01" stroke="#2d88e0" stroke-width="1.8" stroke-linecap="round" fill="none"/>
<polygon fill="#2d88e0" points="392.0,198.9 392.8,199.5 393.6,198.1 394.4,197.7 395.2,197.1 396.0,198.1 396.8,197.1 397.6,197.1 398.4,195.5 399.2,196.0 400.0,196.0 400.8,196.1 401.6,195.7 402.4,194.0 403.2,194.2 404.0,194.9 404.8,193.9 405.6,194.3 406.4,192.9 407.2,192.2 408.0,193.5 408.8,192.1 409.6,192.3 410.4,191.7 411.2,191.8 412.0,192.2 412.8,192.0 413.6,191.6 414.4,190.4 415.2,191.1 416.0,189.5 416.8,189.9 417.6,190.6 418.4,189.2 419.2,189.1 420.0,189.3 420.8,188.7 421.6,189.4 422.4,189.3 423.2,188.3 424.0,189.6 424.8,188.2 425.6,189.2 426.4,188.5 427.2,188.2 428.0,188.0 428.8,189.5 429.6,189.1 430.4,188.5 431.2,189.0 432.0,189.3 432.8,189.2 433.6,188.5 434.4,188.0 435.2,188.4 436.0,189.1 436.8,188.6 437.6,188.5 438.4,188.7 439.2,188.0 440.0,188.2 440.8,188.6 441.6,187.5 442.4,188.5 443.2,187.1 444.0,187.9 444.8,187.9 445.6,187.2 446.4,188.4 447.2,187.6 448.0,187.1 448.8,187.5 449.6,187.7 450.4,187.4 451.2,186.7 452.0,186.8 452.8,187.8 453.6,186.8 454.4,187.0 455.2,187.9 456.0,187.9 456.8,188.0 457.6,186.7 458.4,186.4 459.2,187.7 460.0,187.4 460.8,186.9 461.6,186.3 462.4,187.0 463.2,186.7 464.0,187.2 464.8,187.8 465.6,186.5 466.4,186.3 467.2,187.3 468.0,186.3 468.8,186.4 469.6,186.8 470.4,187.7 471.2,186.5 472.0,186.5 472.8,186.7 473.6,186.2 474.4,186.5 475.2,187.0 476.0,186.4 476.8,187.1 477.6,186.1 478.4,185.9 479.2,186.8 480.0,186.4 480.8,187.2 481.6,185.8 482.4,186.9 483.2,186.7 484.0,186.2 484.8,185.7 485.6,186.5 486.4,186.7 487.2,186.2 488.0,186.2 488.8,186.5 489.6,186.4 490.4,186.0 491.2,185.6 492.0,186.1 492.8,186.2 493.6,186.7 494.4,186.9 495.2,186.1 496.0,185.7 496.8,185.5 497.6,186.1 498.4,186.3 499.2,185.4 500.0,186.2 500.8,186.7 501.6,185.6 502.4,186.5 503.2,185.6 504.0,186.0 504.8,186.3 505.6,185.2 506.4,185.4 507.2,186.4 508.0,184.8 508.8,185.2 508.8,197.9 508.0,198.0 507.2,200.0 506.4,200.6 505.6,197.7 504.8,198.8 504.0,200.1 503.2,199.5 502.4,199.7 501.6,199.5 500.8,200.6 500.0,199.3 499.2,199.5 498.4,198.8 497.6,198.1 496.8,199.5 496.0,198.8 495.2,198.5 494.4,200.8 493.6,199.9 492.8,200.6 492.0,198.5 491.2,198.9 490.4,199.3 489.6,199.8 488.8,198.8 488.0,200.0 487.2,200.7 486.4,200.4 485.6,198.9 484.8,200.1 484.0,200.5 483.2,200.5 482.4,198.5 481.6,198.7 480.8,199.3 480.0,198.7 479.2,198.7 478.4,200.2 477.6,199.7 476.8,200.2 476.0,200.7 475.2,201.1 474.4,199.5 473.6,201.3 472.8,200.7 472.0,200.9 471.2,199.9 470.4,199.7 469.6,201.0 468.8,200.3 468.0,200.9 467.2,200.3 466.4,201.8 465.6,199.2 464.8,200.2 464.0,199.1 463.2,201.9 462.4,200.0 461.6,199.9 460.8,199.7 460.0,201.3 459.2,199.3 458.4,201.9 457.6,201.9 456.8,201.4 456.0,202.1 455.2,200.9 454.4,201.6 453.6,201.5 452.8,200.5 452.0,202.2 451.2,199.3 450.4,200.3 449.6,199.7 448.8,202.1 448.0,200.3 447.2,201.3 446.4,202.4 445.6,202.6 444.8,200.4 444.0,200.3 443.2,200.8 442.4,202.9 441.6,203.1 440.8,203.3 440.0,203.1 439.2,201.4 438.4,202.5 437.6,201.4 436.8,203.9 436.0,204.3 435.2,204.7 434.4,202.1 433.6,203.1 432.8,203.2 432.0,202.4 431.2,204.1 430.4,205.5 429.6,203.7 428.8,204.1 428.0,205.2 427.2,205.6 426.4,206.2 425.6,204.1 424.8,204.6 424.0,206.5 423.2,206.8 422.4,207.5 421.6,207.7 420.8,208.3 420.0,207.0 419.2,207.3 418.4,208.0 417.6,207.9 416.8,209.4 416.0,207.8 415.2,210.3 414.4,210.0 413.6,209.4 412.8,209.0 412.0,210.7 411.2,212.1 410.4,210.7 409.6,210.8 408.8,210.4 408.0,213.1 407.2,211.8 406.4,213.0 405.6,213.6 404.8,213.2 404.0,215.4 403.2,214.1 402.4,215.9 401.6,214.3 400.8,216.0 400.0,216.1 399.2,215.3 398.4,217.2 397.6,216.8 396.8,217.6 396.0,218.1 395.2,220.8 394.4,222.2 393.6,221.8 392.8,222.7 392.0,222.4"/>
<path d="M392.0 224.4h.01M392.8 224.3h.01M394.4 222.1h.01M395.2 224.3h.01M396.0 220.7h.01M396.8 222.1h.01M398.4 218.7h.01M401.6 216.7h.01M402.4 218.5h.01M403.2 217.3h.01M405.6 218.1h.01M406.4 213.9h.01M407.2 216.8h.01M409.6 215.6h.01M410.4 218.0h.01M412.8 211.9h.01M414.4 211.8h.01M417.6 210.9h.01M419.2 212.5h.01M420.0 210.2h.01M420.8 212.1h.01M421.6 210.6h.01M422.4 208.0h.01M426.4 210.5h.01M428.0 205.9h.01M428.8 207.3h.01M429.6 208.7h.01M430.4 208.1h.01M431.2 208.1h.01M432.0 206.8h.01M432.8 208.4h.01M433.6 206.2h.01M435.2 207.4h.01M436.0 206.1h.01M437.6 207.2h.01M445.6 204.3h.01M448.0 202.5h.01M455.2 203.7h.01M459.2 204.9h.01M460.8 202.0h.01M461.6 202.6h.01M462.4 201.6h.01M464.0 205.1h.01M464.8 201.4h.01M465.6 205.2h.01M467.2 201.7h.01M468.0 203.4h.01M470.4 205.7h.01M471.2 202.0h.01M472.0 203.9h.01M472.8 204.3h.01M477.6 201.7h.01M478.4 204.5h.01M480.0 201.9h.01M481.6 202.4h.01M483.2 202.7h.01M484.0 202.5h.01M484.8 202.1h.01M487.2 202.0h.01M488.0 205.9h.01M492.0 202.7h.01M496.0 202.3h.01M496.8 201.4h.01M497.6 200.4h.01M500.8 203.7h.01M501.6 200.7h.01M502.4 204.5h.01M507.2 202.4h.01M508.8 200.2h.01" stroke="#2d88e0" stroke-width="1.8" stroke-linecap="round" fill="none"/>
<polygon fill="#2d88e0" points="150.0,199.9 150.7,199.9 151.4,199.8 152.1,199.8 152.8,199.6 153.5,200.0 154.2,199.9 154.9,199.7 155.6,200.1 156.3,200.2 157.0,200.1 157.7,200.2 158.4,199.5 159.1,199.8 159.8,199.8 160.5,199.7 161.2,200.0 161.9,200.1 162.6,199.6 163.3,199.9 164.0,200.2 164.7,200.1 165.4,199.8 166.1,199.6 166.8,199.8 167.5,199.9 168.2,200.0 168.9,199.6 169.6,199.7 170.3,200.2 171.0,199.5 171.7,199.9 172.4,199.6 173.1,200.0 173.8,199.8 174.5,200.1 175.2,199.7 175.9,200.1 176.6,199.7 177.3,199.5 178.0,199.6 178.7,199.6 179.4,199.8 180.1,200.2 180.8,199.7 181.5,200.0 182.2,199.5 182.9,199.9 183.6,199.9 184.3,199.6 185.0,199.9 185.7,199.8 186.4,199.7 187.1,200.1 187.1,206.4 186.4,206.8 185.7,207.8 185.0,212.9 184.3,212.1 183.6,210.9 182.9,214.6 182.2,218.7 181.5,215.2 180.8,217.8 180.1,220.8 179.4,217.2 178.7,216.5 178.0,216.6 177.3,221.2 176.6,218.4 175.9,217.8 175.2,220.7 174.5,222.4 173.8,221.1 173.1,220.8 172.4,216.1 171.7,220.4 171.0,219.7 170.3,221.9 169.6,220.7 168.9,215.3 168.2,220.6 167.5,215.7 166.8,215.4 166.1,220.5 165.4,213.0 164.7,212.8 164.0,218.9 163.3,216.9 162.6,216.5 161.9,212.7 161.2,213.0 160.5,212.1 159.8,215.4 159.1,218.2 158.4,214.1 157.7,216.1 157.0,216.2 156.3,211.0 155.6,216.4 154.9,217.0 154.2,216.8 153.5,214.1 152.8,211.2 152.1,209.4 151.4,209.6 150.7,209.6 150.0,213.7"/>
<path d="M150.7 214.3h.01M151.4 215.1h.01M152.1 214.3h.01M152.8 216.7h.01M153.5 213.8h.01M154.2 215.0h.01M154.9 216.8h.01M155.6 214.0h.01M156.3 217.7h.01M157.0 214.6h.01M157.7 217.9h.01M158.4 218.0h.01M159.8 220.5h.01M160.5 215.6h.01M161.2 215.9h.01M161.9 217.4h.01M162.6 218.7h.01M163.3 219.7h.01M164.0 220.4h.01M164.7 218.4h.01M165.4 218.2h.01M166.1 219.7h.01M167.5 220.8h.01M168.9 220.9h.01M169.6 219.1h.01M171.0 222.3h.01M171.7 219.9h.01M172.4 223.5h.01M173.8 220.6h.01M174.5 225.2h.01M175.2 221.7h.01M175.9 221.8h.01M176.6 220.7h.01M177.3 221.1h.01M178.0 220.5h.01M179.4 221.7h.01M180.8 221.7h.01M181.5 217.0h.01M182.2 216.6h.01M182.9 215.2h.01M183.6 214.6h.01M184.3 213.0h.01M185.0 210.5h.01M186.4 208.6h.01M187.1 207.1h.01" stroke="#2d88e0" stroke-width="1.8" stroke-linecap="round" fill="none"/>
<path d="M174.0 222.6h.01M175.4 222.3h.01M177.7 221.4h.01M177.8 226.8h.01M174.3 227.9h.01M175.9 228.8h.01M175.8 229.4h.01M178.2 221.7h.01M181.0 222.6h.01M178.3 225.9h.01M174.6 225.4h.01M176.8 227.0h.01M174.2 225.1h.01M177.5 224.8h.01M172.4 223.1h.01M176.9 225.4h.01M173.1 221.6h.01M175.5 229.7h.01M175.1 227.9h.01M175.6 221.8h.01M176.5 228.8h.01M178.3 221.4h.01" stroke="#2d88e0" stroke-width="1.5" stroke-linecap="round" fill="none"/>
<polygon fill="#2d88e0" points="391.0,205.0 396.2,205.0 394.1,246.8 393.1,246.8"/>
<path d="M393.6 252.2h.01M393.7 255.5h.01M394.6 218.9h.01M392.6 214.8h.01M393.7 269.7h.01M394.3 243.8h.01M393.2 242.4h.01M392.1 247.0h.01M391.7 231.7h.01M393.9 280.7h.01M392.7 254.7h.01M393.3 270.0h.01M393.9 266.2h.01M394.3 251.0h.01M395.1 225.3h.01M394.4 246.2h.01M393.2 268.8h.01M393.1 236.2h.01M395.7 210.9h.01M393.6 257.1h.01M394.8 246.4h.01M392.8 210.3h.01M393.7 257.2h.01M392.8 242.8h.01M394.4 221.9h.01M395.4 230.9h.01M394.2 273.5h.01M393.7 226.0h.01M392.8 212.9h.01M393.6 210.7h.01M393.9 277.7h.01M392.7 232.7h.01M393.1 275.8h.01M394.2 269.2h.01M396.1 210.2h.01M393.3 254.1h.01M394.0 237.3h.01M394.8 245.0h.01M393.4 273.0h.01M395.3 205.7h.01M394.0 254.2h.01M391.2 210.6h.01M393.4 273.3h.01M395.3 240.9h.01M394.3 219.8h.01M393.9 209.7h.01M392.9 261.1h.01M394.6 262.7h.01M394.1 267.8h.01M393.8 277.0h.01M394.6 246.6h.01M393.8 266.3h.01M392.8 255.8h.01M392.9 230.7h.01M394.0 270.3h.01M395.8 227.1h.01M391.1 209.5h.01M391.8 229.9h.01M393.5 277.2h.01M395.0 234.5h.01M394.0 245.5h.01M393.5 238.4h.01M393.4 277.7h.01M393.5 244.9h.01M391.7 215.7h.01M394.6 243.5h.01M391.9 237.8h.01M393.2 276.1h.01M393.0 272.2h.01M392.7 254.4h.01M393.2 224.8h.01M393.5 262.4h.01M393.2 236.8h.01M392.9 244.6h.01M393.3 277.4h.01M393.9 215.1h.01M394.5 231.7h.01M394.6 208.0h.01M395.4 232.7h.01M393.3 227.8h.01M393.7 229.1h.01M394.4 226.4h.01M394.4 236.3h.01M393.4 227.2h.01M394.3 247.3h.01M393.4 254.6h.01M391.4 211.5h.01M391.9 216.1h.01M394.4 218.9h.01M395.3 230.9h.01M392.4 222.8h.01M391.8 218.9h.01M393.8 256.8h.01M395.1 224.1h.01M393.4 256.3h.01" stroke="#2d88e0" stroke-width="1.5" stroke-linecap="round" fill="none"/>
<polygon fill="#2d88e0" points="181,219 187,196 190,175 191.3,177 189.6,196 188.4,208"/>
<path d="M187.0 204.0 C187.1 202.6 187.2 192.9 187.5 190.0 C187.8 187.1 189.4 179.0 190.0 175.0 C190.6 171.0 193.1 155.0 193.8 150.0 C194.6 145.0 196.8 129.3 197.5 125.0 C198.2 120.7 199.9 110.1 200.5 107.0 C201.1 103.9 202.5 96.3 203.1 93.8 C203.7 91.2 205.6 84.0 206.2 81.5 C206.8 79.0 208.6 71.3 209.2 69.2 C209.8 67.1 211.7 62.1 212.3 60.8 C212.9 59.5 214.7 57.0 215.4 56.2 C216.1 55.4 218.4 53.9 219.2 53.1 C220.0 52.3 222.3 49.4 223.1 48.5 C223.9 47.6 226.1 44.6 226.9 43.8 C227.7 43.0 230.0 41.3 230.8 40.8 C231.7 40.3 234.3 39.1 235.4 38.6 C236.5 38.1 240.8 36.0 242.1 35.4 C243.4 34.8 247.3 33.1 248.8 32.7 C250.3 32.3 255.4 32.0 256.9 31.7 C258.4 31.4 262.3 29.6 263.7 29.3 C265.1 29.0 269.2 28.8 270.4 29.0 C271.6 29.2 274.6 30.7 275.8 31.2 C277.0 31.7 281.3 33.7 282.5 34.4 C283.7 35.1 286.7 37.5 287.9 37.9 C289.1 38.2 293.3 37.6 294.6 37.9 C295.9 38.2 299.9 40.2 301.3 40.6 C302.7 41.0 306.8 41.9 308.1 41.9 C309.5 41.9 313.5 41.1 314.8 40.6 C316.1 40.1 320.4 37.1 321.5 36.5 C322.6 35.9 324.7 34.4 325.6 34.4 C326.6 34.4 329.8 35.8 331.0 36.5 C332.2 37.2 336.5 40.9 337.7 41.9 C338.9 42.9 342.0 46.3 343.1 46.8 C344.2 47.3 347.4 47.0 348.5 46.8 C349.6 46.6 352.9 45.0 353.8 45.2 C354.7 45.4 357.1 47.4 357.9 48.7 C358.7 50.0 361.1 55.9 361.9 58.0 C362.7 60.1 365.5 68.2 366.3 70.0 C367.1 71.8 368.9 75.5 369.5 76.3 C370.1 77.1 371.9 76.9 372.5 77.8 C373.1 78.7 374.4 83.3 375.0 85.0 C375.6 86.7 378.2 93.2 378.8 95.0 C379.4 96.8 380.8 100.0 381.3 103.0 C381.8 106.0 383.4 120.8 383.8 125.0 C384.2 129.2 385.1 142.2 385.5 145.0 C385.9 147.8 387.1 149.5 387.5 152.5 C387.9 155.5 389.5 170.8 390.0 175.0 C390.5 179.2 392.2 191.7 392.5 195.0 C392.8 198.3 392.9 206.7 393.0 208.0" fill="none" stroke="#2b86de" stroke-width="2.1"/>
</g>
<g stroke="#000" fill="none">
<path d="M146.2 33.1H322" stroke-width="1.6" stroke-dasharray="6.2 5"/>
<path d="M146.2 208H186" stroke-width="1.6" stroke-dasharray="6.2 5"/>
<path d="M168 44V92.5M168 114.6V196" stroke-width="3.2"/>
</g>
<path d="M168 35 C171.2 41.5 175 46.5 180.4 50 C175.6 49 171.4 48.2 168 46.4 C164.6 48.2 160.4 49 155.6 50 C161 46.5 164.8 41.5 168 35Z" fill="#000"/>
<path d="M168 205.8 C171.2 199.3 175 194.3 180.6 190.8 C175.6 191.8 171.4 192.6 168 194.4 C164.6 192.6 160.4 191.8 155.4 190.8 C161 194.3 164.8 199.3 168 205.8Z" fill="#000"/>
<text x="140.6" y="108.5" font-size="14.8" font-weight="bold" style="stroke-width:0.1px">&#8211; 60 dB</text>
<g id="inset">
<rect x="98.8" y="237.0" width="106.9" height="83.6" fill="#fff"/>
<polygon fill="#3b82d6" points="99.2,283.1 99.7,282.5 100.1,281.7 100.6,281.4 101.1,281.7 101.5,280.0 102.0,280.7 102.5,280.6 102.9,280.6 103.4,279.7 103.9,278.7 104.3,278.5 104.8,279.9 105.3,278.0 105.7,278.5 106.2,278.6 106.7,278.9 107.2,278.5 107.6,277.3 108.1,277.1 108.6,277.5 109.0,276.9 109.5,277.0 110.0,277.5 110.4,277.0 110.9,276.3 111.4,277.2 111.8,276.0 112.3,276.1 112.8,277.0 113.2,276.2 113.7,276.2 114.2,276.2 114.6,276.1 115.1,276.7 115.6,275.7 116.0,276.1 116.5,274.8 117.0,275.8 117.4,275.4 117.9,276.2 118.4,275.9 118.8,276.1 119.3,275.7 119.8,274.8 120.2,274.6 120.7,275.7 121.2,274.7 121.6,275.4 122.1,274.5 122.6,274.5 123.0,274.1 123.5,273.8 124.0,273.7 124.5,273.6 124.9,274.2 125.4,273.9 125.4,275.9 124.9,276.0 124.5,276.4 124.0,276.5 123.5,276.5 123.0,276.7 122.6,276.9 122.1,277.2 121.6,277.8 121.2,278.0 120.7,278.4 120.2,278.3 119.8,279.0 119.3,279.0 118.8,278.7 118.4,279.4 117.9,279.8 117.4,279.6 117.0,280.2 116.5,280.8 116.0,280.3 115.6,281.0 115.1,282.3 114.6,282.3 114.2,282.9 113.7,284.1 113.2,283.1 112.8,284.8 112.3,283.8 111.8,285.0 111.4,285.9 110.9,286.4 110.4,288.2 110.0,287.6 109.5,290.0 109.0,289.5 108.6,290.6 108.1,291.5 107.6,294.1 107.2,293.4 106.7,296.9 106.2,297.7 105.7,300.3 105.3,303.3 104.8,299.8 104.3,305.9 103.9,307.6 103.4,309.7 102.9,309.0 102.5,306.6 102.0,310.7 101.5,311.0 101.1,316.4 100.6,316.6 100.1,320.9 99.7,313.3 99.2,320.1"/>
<path d="M125.5 274.6 L128.9 274.0 L129.5 253.1 L130.1 272.8 L130.6 256.1 L131.1 300.3 L131.9 274.0 L134.9 272.8 L136.9 275.2 L138.2 271.6 L140.2 273.4 L144.2 274.6 L146.2 276.4 L147.2 260.9 L148.2 241.8 L149.8 240.0 L151.6 242.4 L152.2 263.9 L152.9 292.5 L153.6 274.0 L156.2 272.8 L157.3 253.7 L158.3 269.8 L159.2 265.7 L160.3 258.5 L161.3 262.1 L162.3 271.6 L162.9 276.4 L163.6 269.8 L168.3 269.8 L173.6 269.2 L177.6 268.6 L179.6 266.9 L180.3 259.7 L181.2 262.1 L181.9 284.8 L182.7 268.0 L184.3 269.8 L185.4 291.9 L186.3 268.0 L187.6 271.6 L189.6 268.0 L191.0 264.5 L193.0 268.0 L196.3 267.4 L200.3 266.3 L205.7 265.1" fill="none" stroke="#3b82d6" stroke-width="1" stroke-linejoin="round"/>
<rect x="98.8" y="237.0" width="106.9" height="83.6" fill="none" stroke="#222" stroke-width="1"/>
<path d="M112.2 320.6v3.8M112.2 237.0v-3.2M125.5 320.6v3.8M125.5 237.0v-3.2M138.9 320.6v3.8M138.9 237.0v-3.2M152.2 320.6v3.8M152.2 237.0v-3.2M165.6 320.6v3.8M165.6 237.0v-3.2M179.0 320.6v3.8M179.0 237.0v-3.2M192.3 320.6v3.8M192.3 237.0v-3.2M205.7 320.6v3.8M205.7 237.0v-3.2M98.8 237.0h-3.8M205.7 237.0h3.2M98.8 248.9h-3.8M205.7 248.9h3.2M98.8 260.9h-3.8M205.7 260.9h3.2M98.8 272.8h-3.8M205.7 272.8h3.2M98.8 284.8h-3.8M205.7 284.8h3.2M98.8 296.7h-3.8M205.7 296.7h3.2M98.8 308.6h-3.8M205.7 308.6h3.2M98.8 320.6h-3.8M205.7 320.6h3.2" stroke="#222" stroke-width="1" fill="none"/>
<text x="125.5" y="334.1" font-size="9.2" text-anchor="middle">2</text>
<text x="152.2" y="334.1" font-size="9.2" text-anchor="middle">4</text>
<text x="179.0" y="334.1" font-size="9.2" text-anchor="middle">6</text>
<text x="205.7" y="334.1" font-size="9.2" text-anchor="middle">8</text>
<text x="90.0" y="240.5" font-size="9.2" text-anchor="end">0</text>
<text x="91.8" y="264.4" font-size="9.2" text-anchor="end">-40</text>
<text x="91.8" y="288.3" font-size="9.2" text-anchor="end">-80</text>
<text x="91.8" y="312.1" font-size="9.2" text-anchor="end">-120</text>
</g>
<g id="legend-a">
<rect x="430.7" y="22.6" width="70.1" height="103.4" fill="#fff" stroke="#a9a9a9" stroke-width="1.5"/>
<circle cx="444.4" cy="36.0" r="4.7" fill="#cf84c8"/>
<text x="456.4" y="41.3" font-size="15.5">0<tspan font-size="9.4" dy="-6.6">o</tspan><tspan dy="6.6"></tspan></text>
<circle cx="444.4" cy="55.9" r="4.7" fill="#7c4fd2"/>
<text x="456.4" y="61.1" font-size="15.5">10<tspan font-size="9.4" dy="-6.6">o</tspan><tspan dy="6.6"></tspan></text>
<circle cx="444.4" cy="75.7" r="4.7" fill="#938fc6"/>
<text x="456.4" y="81.0" font-size="15.5">30<tspan font-size="9.4" dy="-6.6">o</tspan><tspan dy="6.6"></tspan></text>
<circle cx="444.4" cy="95.6" r="4.7" fill="#2f49e2"/>
<text x="456.4" y="100.9" font-size="15.5">60<tspan font-size="9.4" dy="-6.6">o</tspan><tspan dy="6.6"></tspan></text>
<circle cx="444.4" cy="115.4" r="4.7" fill="#2b86de"/>
<text x="456.4" y="120.7" font-size="15.5">60<tspan font-size="9.4" dy="-6.6">o</tspan><tspan dy="6.6"> P</tspan></text>
</g>
<g stroke="#000" fill="none" stroke-linecap="butt">
<rect x="71.8" y="14.3" width="437.4" height="325.4" stroke-width="2"/>
<path d="M71.8 339.7v10.5M71.8 14.3v-9.8M169.0 339.7v10.5M169.0 14.3v-9.8M266.2 339.7v10.5M266.2 14.3v-9.8M363.4 339.7v10.5M363.4 14.3v-9.8M460.6 339.7v10.5M460.6 14.3v-9.8M71.8 14.3h-12M509.2 14.3h9.5M71.8 72.5h-12M509.2 72.5h9.5M71.8 130.8h-12M509.2 130.8h9.5M71.8 189.1h-12M509.2 189.1h9.5M71.8 247.3h-12M509.2 247.3h9.5M71.8 305.6h-12M509.2 305.6h9.5" stroke-width="1.5"/>
<path d="M96.1 339.7v6M96.1 14.3v-4.4M120.4 339.7v6M120.4 14.3v-4.4M144.7 339.7v6M144.7 14.3v-4.4M193.3 339.7v6M193.3 14.3v-4.4M217.6 339.7v6M217.6 14.3v-4.4M241.9 339.7v6M241.9 14.3v-4.4M290.5 339.7v6M290.5 14.3v-4.4M314.8 339.7v6M314.8 14.3v-4.4M339.1 339.7v6M339.1 14.3v-4.4M387.7 339.7v6M387.7 14.3v-4.4M412.0 339.7v6M412.0 14.3v-4.4M436.3 339.7v6M436.3 14.3v-4.4M484.9 339.7v6M484.9 14.3v-4.4M509.2 339.7v6M509.2 14.3v-4.4M71.8 28.9h-7M509.2 28.9h5M71.8 43.4h-7M509.2 43.4h5M71.8 58.0h-7M509.2 58.0h5M71.8 87.1h-7M509.2 87.1h5M71.8 101.7h-7M509.2 101.7h5M71.8 116.2h-7M509.2 116.2h5M71.8 145.4h-7M509.2 145.4h5M71.8 159.9h-7M509.2 159.9h5M71.8 174.5h-7M509.2 174.5h5M71.8 203.6h-7M509.2 203.6h5M71.8 218.2h-7M509.2 218.2h5M71.8 232.7h-7M509.2 232.7h5M71.8 261.9h-7M509.2 261.9h5M71.8 276.4h-7M509.2 276.4h5M71.8 291.0h-7M509.2 291.0h5M71.8 320.1h-7M509.2 320.1h5M71.8 334.7h-7M509.2 334.7h5" stroke-width="1.4"/>
</g>
<text x="54.8" y="21.0" font-size="16" text-anchor="end">0</text>
<text x="52.4" y="78.6" font-size="16" text-anchor="end">-20</text>
<text x="52.6" y="136.8" font-size="16" text-anchor="end">-40</text>
<text x="52.8" y="195.1" font-size="16" text-anchor="end">-60</text>
<text x="52.8" y="253.3" font-size="16" text-anchor="end">-80</text>
<text x="53.4" y="311.6" font-size="16" text-anchor="end">-100</text>
<text transform="translate(14.3 262.6) rotate(-90)" font-size="14.6"><tspan font-weight="bold" x="0">Transmission,</tspan><tspan x="107.2" font-size="16.5" dy="1">|</tspan><tspan x="111.8" dy="-1" font-size="15">S</tspan><tspan x="123.6" font-size="11" dy="5">21</tspan><tspan x="136.4" font-size="16.5" dy="-4">|</tspan><tspan x="148.4" dy="-1" font-size="14">(dB)</tspan></text>
<text x="14.6" y="12.5" font-size="22" font-weight="bold" style="fill:#5a5a5a;stroke:#5a5a5a">a</text>
</g>
<g id="panel-b">
<g stroke="#d9d9d9" stroke-width="1.3" stroke-dasharray="13.2 8.8" fill="none">
<path d="M71.8 402.2H509.2"/>
<path d="M71.8 489.4H509.2"/>
<path d="M71.8 576.6H509.2"/>
<path d="M169.0 361.4V620.8"/>
<path d="M266.2 361.4V620.8"/>
<path d="M363.4 361.4V620.8"/>
<path d="M460.6 361.4V620.8"/>
</g>
<clipPath id="clipB"><rect x="71.8" y="359.4" width="437.4" height="261.4"/></clipPath>
<g clip-path="url(#clipB)" fill="none" stroke-linejoin="round" stroke-linecap="round">
<path d="M71.3 398.0 C71.8 398.1 74.8 398.4 76.0 398.6 C77.2 398.8 79.9 398.8 81.5 399.3 C83.1 399.8 87.7 401.7 89.6 402.5 C91.5 403.3 95.8 406.0 97.7 406.5 C99.6 407.0 103.9 406.7 105.8 407.2 C107.7 407.7 112.5 409.6 113.9 410.6 C115.3 411.6 117.1 414.6 117.9 416.0 C118.7 417.4 119.8 421.5 120.6 422.2 C121.4 422.9 123.8 422.7 124.6 422.0 C125.4 421.3 126.7 417.0 127.3 416.0 C127.9 415.0 129.1 413.3 130.0 413.3 C130.9 413.3 134.5 414.9 135.4 416.0 C136.3 417.1 137.5 421.8 138.0 422.7 C138.5 423.6 139.2 424.6 139.7 424.0 C140.2 423.4 141.2 418.1 142.0 417.3 C142.8 416.5 144.9 416.8 146.2 417.3 C147.5 417.8 151.0 420.6 152.9 421.4 C154.8 422.2 160.3 423.5 162.3 424.3 C164.3 425.1 168.5 427.1 170.4 428.0 C172.3 428.9 176.6 430.9 178.5 432.0 C180.4 433.1 184.6 436.2 186.5 437.8 C188.4 439.4 192.8 444.1 194.6 446.0 C196.3 447.9 199.4 452.0 201.5 454.4 C203.6 456.8 210.1 464.1 212.3 466.3 C214.5 468.5 217.8 470.4 220.4 473.4 C223.0 476.4 233.3 489.8 235.0 492.0" stroke="#6db5f0" stroke-width="2.3"/>
<path d="M292.0 526.0 C292.4 525.4 293.5 522.6 295.0 521.5 C296.5 520.4 301.0 517.7 303.0 517.5 C305.0 517.3 308.2 519.4 309.8 520.2 C311.4 521.0 313.9 524.6 315.2 523.7 C316.5 522.8 317.9 517.0 319.2 513.5 C320.5 510.0 323.2 500.4 324.6 497.3 C326.0 494.2 328.4 491.7 330.0 490.6 C331.6 489.5 335.1 488.9 336.7 489.2 C338.3 489.5 340.7 491.8 342.1 492.5 C343.5 493.2 346.1 495.4 347.5 494.6 C348.9 493.8 351.5 488.8 352.9 486.5 C354.3 484.2 357.0 478.5 358.3 477.1 C359.6 475.7 361.2 476.0 362.3 476.3 C363.4 476.6 365.4 478.5 366.4 479.0 C367.4 479.5 369.0 480.8 369.9 480.4 C370.8 480.0 372.1 477.0 373.1 475.8 C374.1 474.6 375.8 472.5 377.1 471.7 C378.4 470.9 381.0 471.0 382.5 469.6 C384.0 468.2 386.8 462.8 388.1 461.4 C389.4 460.0 391.0 459.4 392.1 459.3 C393.2 459.2 395.1 459.7 396.2 460.5 C397.3 461.3 399.1 463.9 400.2 465.4 C401.3 466.9 403.1 470.0 404.2 472.1 C405.3 474.2 407.2 478.6 408.3 481.5 C409.4 484.4 411.2 489.7 412.3 493.7 C413.4 497.7 415.4 506.7 416.3 511.2 C417.2 515.7 418.4 524.0 419.0 527.3 C419.6 530.6 420.4 536.4 420.9 536.0 C421.4 535.6 422.3 529.0 423.1 524.6 C423.9 520.2 426.0 508.5 427.1 503.1 C428.2 497.7 430.1 488.9 431.2 484.2 C432.3 479.5 434.0 472.0 435.2 468.1 C436.4 464.2 439.0 458.0 440.4 454.6 C441.8 451.2 444.5 445.0 446.0 442.5 C447.5 440.0 450.0 437.4 451.5 435.8 C453.0 434.2 455.6 431.7 457.0 430.4 C458.4 429.1 460.9 427.4 462.3 426.3 C463.7 425.2 466.1 423.3 467.5 422.3 C468.9 421.3 471.2 419.6 472.5 418.9 C473.8 418.2 476.0 417.6 477.5 417.4 C479.0 417.2 482.0 417.8 483.7 417.7 C485.4 417.6 488.8 416.5 490.4 416.6 C492.0 416.7 494.4 417.6 495.8 418.3 C497.2 419.0 499.4 420.9 501.2 421.5 C503.0 422.1 508.0 422.5 509.0 422.6" stroke="#6db5f0" stroke-width="2.3"/>
<path d="M396.2 460.5 C396.7 461.2 399.1 463.9 400.2 465.4 C401.3 466.9 403.1 470.0 404.2 472.1 C405.3 474.2 407.2 478.6 408.3 481.5 C409.4 484.4 411.2 489.7 412.3 493.7 C413.4 497.7 415.4 506.7 416.3 511.2 C417.2 515.7 418.4 524.0 419.0 527.3 C419.6 530.6 420.4 536.4 420.9 536.0 C421.4 535.6 422.3 529.0 423.1 524.6 C423.9 520.2 426.0 508.5 427.1 503.1 C428.2 497.7 430.1 488.9 431.2 484.2 C432.3 479.5 434.0 472.0 435.2 468.1 C436.4 464.2 439.0 458.0 440.4 454.6 C441.8 451.2 444.5 445.0 446.0 442.5 C447.5 440.0 450.0 437.4 451.5 435.8 C453.0 434.2 455.6 431.7 457.0 430.4 C458.4 429.1 460.9 427.4 462.3 426.3 C463.7 425.2 466.1 423.3 467.5 422.3 C468.9 421.3 471.2 419.6 472.5 418.9 C473.8 418.2 476.0 417.6 477.5 417.4 C479.0 417.2 482.0 417.8 483.7 417.7 C485.4 417.6 488.8 416.5 490.4 416.6 C492.0 416.7 494.4 417.6 495.8 418.3 C497.2 419.0 499.4 420.9 501.2 421.5 C503.0 422.1 508.0 422.5 509.0 422.6" stroke="#6db5f0" stroke-width="3.2"/>
<path d="M71.5 399.0 L72.3 398.9 L73.1 398.5 L73.9 397.6 L74.7 399.7 L75.5 399.9 L76.3 400.0 L77.1 398.3 L77.9 399.8 L78.7 399.5 L79.5 400.1 L80.3 400.1 L81.1 399.1 L81.9 399.1 L82.7 400.7 L83.5 400.6 L84.3 400.5 L85.1 401.8 L85.9 399.6 L86.7 399.9 L87.5 401.6 L88.3 400.8 L89.1 403.3 L89.9 401.4 L90.7 404.2 L91.5 402.6" stroke="#6db5f0" stroke-width="2.4"/>
<path d="M92.0 403.1 L92.8 404.5 L93.6 404.8 L94.4 404.7 L95.2 405.4 L96.0 405.7 L96.8 406.8 L97.6 406.5 L98.4 406.6 L99.2 406.6 L100.0 406.6 L100.8 407.1 L101.6 406.2 L102.4 407.2 L103.2 407.7 L104.0 407.5 L104.8 407.2 L105.6 406.9 L106.4 406.8 L107.2 407.1 L108.0 408.2 L108.8 409.1 L109.6 409.4 L110.4 408.6 L111.2 409.9 L112.0 410.3" stroke="#6db5f0" stroke-width="2.0"/>
<path d="M425.0 514.3 L425.8 510.9 L426.6 505.0 L427.4 501.3 L428.2 498.1 L429.0 494.9 L429.8 490.5 L430.6 486.5 L431.4 484.3 L432.2 479.9 L433.0 476.8 L433.8 473.1 L434.6 470.5 L435.4 468.1 L436.2 465.2 L437.0 463.8 L437.8 461.3 L438.6 458.1 L439.4 458.3 L440.2 454.6 L441.0 453.4 L441.8 452.7 L442.6 449.1 L443.4 447.1 L444.2 445.7 L445.0 443.8 L445.8 443.8 L446.6 441.8 L447.4 439.7 L448.2 439.3 L449.0 438.9 L449.8 437.1 L450.6 436.4 L451.4 436.9 L452.2 435.0 L453.0 433.7 L453.8 433.8 L454.6 431.8 L455.4 432.0 L456.2 431.5 L457.0 429.4 L457.8 429.9 L458.6 428.7 L459.4 429.1 L460.2 428.2 L461.0 428.3 L461.8 426.9 L462.6 425.3 L463.4 424.7" stroke="#6db5f0" stroke-width="2.6"/>
<polygon fill="#6db5f0" stroke="none" points="462.0,424.2 462.8,423.5 463.6,421.1 464.4,420.9 465.2,419.8 466.0,419.3 466.8,419.7 467.6,418.5 468.4,418.5 469.2,418.0 470.0,416.6 470.8,416.8 471.6,415.9 472.4,415.8 473.2,415.7 474.0,415.7 474.8,414.4 475.6,415.6 476.4,413.9 477.2,414.0 478.0,414.9 478.8,415.2 479.6,414.0 480.4,415.3 481.2,413.5 482.0,415.4 482.8,413.9 483.6,413.7 484.4,415.2 485.2,414.0 486.0,415.1 486.8,413.4 487.6,413.5 488.4,413.9 489.2,413.2 490.0,413.9 490.8,413.9 491.6,414.9 492.4,414.7 493.2,415.9 494.0,415.9 494.8,414.7 495.6,416.5 496.4,416.8 497.2,416.5 498.0,416.9 498.8,416.6 499.6,417.4 500.4,417.6 501.2,418.0 502.0,419.3 502.8,419.1 503.6,420.5 504.4,420.6 505.2,421.5 506.0,420.3 506.8,422.2 507.6,421.8 508.4,422.4 509.2,421.9 509.2,429.9 508.4,430.4 507.6,429.8 506.8,430.2 506.0,428.3 505.2,429.5 504.4,428.6 503.6,428.5 502.8,427.1 502.0,427.3 501.2,426.0 500.4,425.6 499.6,425.4 498.8,424.6 498.0,424.9 497.2,424.5 496.4,424.8 495.6,424.5 494.8,422.7 494.0,423.9 493.2,423.9 492.4,422.7 491.6,422.9 490.8,421.9 490.0,421.9 489.2,421.2 488.4,421.9 487.6,421.5 486.8,421.4 486.0,423.1 485.2,422.0 484.4,423.2 483.6,421.7 482.8,421.9 482.0,423.4 481.2,421.5 480.4,423.3 479.6,422.0 478.8,423.2 478.0,422.9 477.2,422.0 476.4,421.9 475.6,423.6 474.8,422.4 474.0,423.7 473.2,423.7 472.4,423.8 471.6,423.9 470.8,424.8 470.0,424.6 469.2,426.0 468.4,426.5 467.6,426.5 466.8,427.7 466.0,427.3 465.2,427.8 464.4,428.9 463.6,429.1 462.8,431.5 462.0,432.2"/>
<path d="M69.8 426.8 L71.8 427.1 L73.8 427.5 L75.8 427.9 L77.8 428.3 L79.8 428.7 L81.8 429.0 L83.8 429.4 L85.8 429.8 L87.8 430.2 L89.8 430.6 L91.8 431.1 L93.8 431.5 L95.8 431.9 L97.8 432.3 L99.8 432.7 L101.8 433.2 L103.8 433.6 L105.8 434.1 L107.8 434.5 L109.8 435.0 L111.8 435.4 L113.8 435.9 L115.8 436.4 L117.8 436.8 L119.8 437.3 L121.8 437.8 L123.8 438.3 L125.8 438.8 L127.8 439.3 L129.8 439.8 L131.8 440.4 L133.8 440.9 L135.8 441.4 L137.8 442.0 L139.8 442.5 L141.8 443.1 L143.8 443.7 L145.8 444.3 L147.8 444.8 L149.8 445.4 L151.8 446.1 L153.8 446.7 L155.8 447.3 L157.8 447.9 L159.8 448.6 L161.8 449.3 L163.8 449.9 L165.8 450.6 L167.8 451.3 L169.8 452.0 L171.8 452.7 L173.8 453.5 L175.8 454.2 L177.8 455.0 L179.8 455.8 L181.8 456.6 L183.8 457.4 L185.8 458.3 L187.8 459.1 L189.8 460.0 L191.8 460.9 L193.8 461.8 L195.8 462.7 L197.8 463.7 L199.8 464.7 L201.8 465.7 L203.8 466.8 L205.8 467.8 L207.8 468.9 L209.8 470.1 L211.8 471.3 L213.8 472.5 L215.8 473.7 L217.8 475.0 L219.8 476.4 L221.8 477.7 L223.8 479.2 L225.8 480.7 L227.8 482.3 L229.8 483.9 L231.8 485.6 L233.8 487.4 L235.8 489.2 L237.8 491.2 L239.8 493.3 L241.8 495.5 L243.8 497.8 L245.8 500.3 L247.8 502.9 L249.8 505.8 L251.8 508.8 L253.8 512.2 L255.8 515.8 L257.8 519.9 L259.8 524.4 L261.8 529.5 L262.3 530.9 L262.8 532.4 L263.3 533.9 L263.8 535.4 L264.3 537.1 L264.8 538.7 L265.3 540.5 L265.8 542.4 L266.3 544.3 L266.8 546.3 L267.3 548.4 L267.8 550.7 L268.3 553.1 L268.8 555.6 L269.3 558.2 L269.8 561.1 L270.3 564.1 L270.8 567.2 L271.3 570.6 L271.8 574.2 L272.3 577.9 L272.8 581.8 L273.3 585.6 L273.8 589.2 L274.3 592.1 L274.8 594.0 L275.3 594.4 L275.8 593.3 L276.3 590.9 L276.8 587.7 L277.3 584.0 L277.8 580.1 L278.3 576.3 L278.8 572.6 L279.3 569.1 L279.8 565.8 L280.3 562.7 L280.8 559.8 L281.3 557.1 L281.8 554.5 L282.3 552.0 L282.8 549.7 L283.3 547.5 L283.8 545.4 L284.3 543.4 L284.8 541.5 L285.3 539.7 L285.8 538.0 L286.3 536.3 L286.8 534.7 L287.3 533.2 L287.8 531.7 L288.3 530.3 L288.8 528.9 L289.3 527.6 L289.8 526.3 L291.8 521.6 L293.8 517.4 L295.8 513.6 L297.8 510.1 L299.8 506.9 L301.8 504.0 L303.8 501.3 L305.8 498.7 L307.8 496.4 L309.8 494.1 L311.8 492.0 L313.8 490.0 L315.8 488.1 L317.8 486.3 L319.8 484.5 L321.8 482.9 L323.8 481.3 L325.8 479.8 L327.8 478.3 L329.8 476.9 L331.8 475.5 L333.8 474.2 L335.8 473.0 L337.8 471.7 L339.8 470.5 L341.8 469.4 L343.8 468.3 L345.8 467.2 L347.8 466.1 L349.8 465.1 L351.8 464.1 L353.8 463.1 L355.8 462.2 L357.8 461.2 L359.8 460.3 L361.8 459.5 L363.8 458.6 L365.8 457.7 L367.8 456.9 L369.8 456.1 L371.8 455.3 L373.8 454.5 L375.8 453.8 L377.8 453.0 L379.8 452.3 L381.8 451.6 L383.8 450.9 L385.8 450.2 L387.8 449.5 L389.8 448.8 L391.8 448.2 L393.8 447.6 L395.8 446.9 L397.8 446.3 L399.8 445.7 L401.8 445.1 L403.8 444.5 L405.8 443.9 L407.8 443.3 L409.8 442.8 L411.8 442.2 L413.8 441.7 L415.8 441.1 L417.8 440.6 L419.8 440.0 L421.8 439.5 L423.8 439.0 L425.8 438.5 L427.8 438.0 L429.8 437.5 L431.8 437.0 L433.8 436.5 L435.8 436.1 L437.8 435.6 L439.8 435.1 L441.8 434.7 L443.8 434.2 L445.8 433.8 L447.8 433.3 L449.8 432.9 L451.8 432.5 L453.8 432.1 L455.8 431.6 L457.8 431.2 L459.8 430.8 L461.8 430.4 L463.8 430.0 L465.8 429.6 L467.8 429.2 L469.8 428.8 L471.8 428.4 L473.8 428.0 L475.8 427.7 L477.8 427.3 L479.8 426.9 L481.8 426.5 L483.8 426.2 L485.8 425.8 L487.8 425.5 L489.8 425.1 L491.8 424.7 L493.8 424.4 L495.8 424.1 L497.8 423.7 L499.8 423.4 L501.8 423.0 L503.8 422.7 L505.8 422.4 L507.8 422.1 L509.8 421.7" stroke="#3d56b6" stroke-width="4.7"/>
</g>
<rect x="353.8" y="571.6" width="147.2" height="41.8" fill="#fff" stroke="#a9a9a9" stroke-width="1.5"/>
<circle cx="373.6" cy="583.6" r="4.4" fill="#7dbcf2"/>
<path d="M362.5 602H385" stroke="#3d56b6" stroke-width="4.2" fill="none"/>
<text x="392.6" y="587.6" font-size="13.4">limit with filter</text>
<text x="392.6" y="606.2" font-size="13.4">bare Purcell limit</text>
<g stroke="#000" fill="none">
<rect x="71.8" y="359.4" width="437.4" height="261.4" stroke-width="2"/>
<path d="M71.8 620.8v13M169.0 620.8v13M266.2 620.8v13M363.4 620.8v13M460.6 620.8v13M71.8 576.6h-10M509.2 576.6h9.5M71.8 489.4h-10M509.2 489.4h9.5M71.8 402.2h-10M509.2 402.2h9.5" stroke-width="1.5"/>
<path d="M96.1 620.8v7M120.4 620.8v7M144.7 620.8v7M193.3 620.8v7M217.6 620.8v7M241.9 620.8v7M290.5 620.8v7M314.8 620.8v7M339.1 620.8v7M387.7 620.8v7M412.0 620.8v7M436.3 620.8v7M484.9 620.8v7M509.2 620.8v7M71.8 620.2h-5M509.2 620.2h5M71.8 607.1h-5M509.2 607.1h5M71.8 599.4h-5M509.2 599.4h5M71.8 594.0h-5M509.2 594.0h5M71.8 589.7h-5M509.2 589.7h5M71.8 586.3h-5M509.2 586.3h5M71.8 583.4h-5M509.2 583.4h5M71.8 580.8h-5M509.2 580.8h5M71.8 578.6h-5M509.2 578.6h5M71.8 563.5h-5M509.2 563.5h5M71.8 555.8h-5M509.2 555.8h5M71.8 550.4h-5M509.2 550.4h5M71.8 546.1h-5M509.2 546.1h5M71.8 542.7h-5M509.2 542.7h5M71.8 539.8h-5M509.2 539.8h5M71.8 537.2h-5M509.2 537.2h5M71.8 535.0h-5M509.2 535.0h5M71.8 533.0h-5M509.2 533.0h5M71.8 519.9h-5M509.2 519.9h5M71.8 512.2h-5M509.2 512.2h5M71.8 506.8h-5M509.2 506.8h5M71.8 502.5h-5M509.2 502.5h5M71.8 499.1h-5M509.2 499.1h5M71.8 496.2h-5M509.2 496.2h5M71.8 493.6h-5M509.2 493.6h5M71.8 491.4h-5M509.2 491.4h5M71.8 476.3h-5M509.2 476.3h5M71.8 468.6h-5M509.2 468.6h5M71.8 463.2h-5M509.2 463.2h5M71.8 458.9h-5M509.2 458.9h5M71.8 455.5h-5M509.2 455.5h5M71.8 452.6h-5M509.2 452.6h5M71.8 450.0h-5M509.2 450.0h5M71.8 447.8h-5M509.2 447.8h5M71.8 445.8h-5M509.2 445.8h5M71.8 432.7h-5M509.2 432.7h5M71.8 425.0h-5M509.2 425.0h5M71.8 419.6h-5M509.2 419.6h5M71.8 415.3h-5M509.2 415.3h5M71.8 411.9h-5M509.2 411.9h5M71.8 409.0h-5M509.2 409.0h5M71.8 406.4h-5M509.2 406.4h5M71.8 404.2h-5M509.2 404.2h5M71.8 389.1h-5M509.2 389.1h5M71.8 381.4h-5M509.2 381.4h5M71.8 376.0h-5M509.2 376.0h5M71.8 371.7h-5M509.2 371.7h5M71.8 368.3h-5M509.2 368.3h5M71.8 365.4h-5M509.2 365.4h5M71.8 362.8h-5M509.2 362.8h5M71.8 360.6h-5M509.2 360.6h5" stroke-width="1.1"/>
</g>
<text x="26.6" y="410.4" font-size="14.8">10<tspan font-size="11.6" dx="0.6" dy="-6">-4</tspan></text>
<text x="26.6" y="497.6" font-size="14.8">10<tspan font-size="11.6" dx="0.6" dy="-6">-6</tspan></text>
<text x="26.6" y="584.8" font-size="14.8">10<tspan font-size="11.6" dx="0.6" dy="-6">-8</tspan></text>
<text x="71.0" y="655.9" font-size="16" text-anchor="middle">3.4</text>
<text x="168.2" y="655.9" font-size="16" text-anchor="middle">3.6</text>
<text x="265.4" y="655.9" font-size="16" text-anchor="middle">3.8</text>
<text x="362.6" y="655.9" font-size="16" text-anchor="middle">4.0</text>
<text x="459.8" y="655.9" font-size="16" text-anchor="middle">4.2</text>
<text transform="translate(14.2 597.3) rotate(-90)" font-size="14.6"><tspan font-weight="bold" x="0">Relaxation Time,</tspan><tspan x="127" font-size="14.2">T</tspan><tspan x="137.6" font-size="10.5" dy="4.2">1</tspan><tspan x="149.3" dy="-4.2" font-size="14">(seconds)</tspan></text>
<text y="675.9" font-size="14.6"><tspan font-weight="bold" x="209.5">Frequency</tspan><tspan>,</tspan><tspan x="294" font-family="Liberation Serif, serif" font-style="italic" font-size="16.5" style="fill:#333;stroke:none">&#969;</tspan><tspan x="303.6">/2</tspan><tspan x="319.2" font-family="Liberation Serif, serif" font-style="italic" font-size="16" style="fill:#333;stroke:none">&#960;</tspan><tspan x="332.6" font-size="14.1">(GHz)</tspan></text>
<text x="15.2" y="359.8" font-size="22.5" font-weight="bold" style="fill:#5a5a5a;stroke:#5a5a5a">b</text>
</g>
</g>
</svg>
</body></html>
